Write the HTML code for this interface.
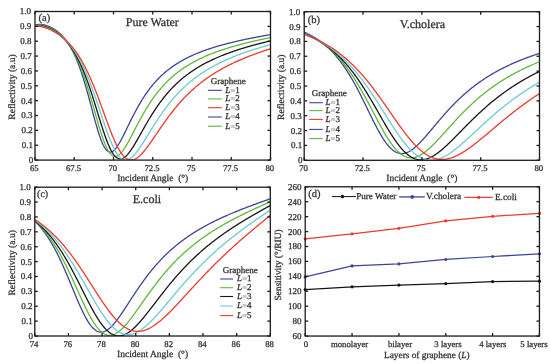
<!DOCTYPE html>
<html><head><meta charset="utf-8"><style>
html,body{margin:0;padding:0;background:#fff;}
svg{display:block;will-change:transform;}
text{font-family:"Liberation Serif", serif;fill:#333333;stroke:#333333;stroke-width:0.28px;text-rendering:geometricPrecision;}
</style></head><body>
<svg width="550" height="364" viewBox="0 0 550 364">
<rect width="550" height="364" fill="#ffffff"/>
<clipPath id="clipa"><rect x="35.0" y="11.5" width="235.5" height="148.6"/></clipPath>
<g clip-path="url(#clipa)">
<polyline points="35.00,25.22 35.59,25.02 36.18,24.85 36.77,24.71 37.36,24.60 37.95,24.52 38.54,24.46 39.13,24.43 39.72,24.42 40.31,24.43 40.90,24.46 41.49,24.51 42.08,24.57 42.67,24.66 43.26,24.75 43.85,24.87 44.44,25.00 45.03,25.15 45.62,25.31 46.21,25.48 46.80,25.67 47.39,25.87 47.98,26.09 48.58,26.32 49.17,26.56 49.76,26.82 50.35,27.09 50.94,27.37 51.53,27.67 52.12,27.98 52.71,28.31 53.30,28.65 53.89,29.01 54.48,29.38 55.07,29.77 55.66,30.17 56.25,30.59 56.84,31.03 57.43,31.48 58.02,31.95 58.61,32.44 59.20,32.95 59.79,33.48 60.38,34.02 60.97,34.59 61.56,35.18 62.15,35.79 62.74,36.43 63.33,37.08 63.92,37.76 64.51,38.47 65.10,39.20 65.69,39.95 66.28,40.74 66.87,41.55 67.46,42.39 68.05,43.25 68.64,44.15 69.23,45.08 69.82,46.05 70.41,47.04 71.00,48.07 71.59,49.13 72.18,50.23 72.77,51.36 73.36,52.53 73.95,53.74 74.55,54.99 75.14,56.28 75.73,57.60 76.32,58.97 76.91,60.38 77.50,61.83 78.09,63.32 78.68,64.85 79.27,66.43 79.86,68.05 80.45,69.71 81.04,71.41 81.63,73.16 82.22,74.95 82.81,76.78 83.40,78.65 83.99,80.57 84.58,82.51 85.17,84.50 85.76,86.52 86.35,88.58 86.94,90.67 87.53,92.78 88.12,94.92 88.71,97.09 89.30,99.27 89.89,101.48 90.48,103.69 91.07,105.91 91.66,108.14 92.25,110.37 92.84,112.59 93.43,114.80 94.02,116.99 94.61,119.16 95.20,121.31 95.79,123.42 96.38,125.50 96.97,127.53 97.56,129.51 98.15,131.44 98.74,133.30 99.33,135.10 99.92,136.83 100.52,138.48 101.11,140.05 101.70,141.54 102.29,142.93 102.88,144.24 103.47,145.45 104.06,146.55 104.65,147.56 105.24,148.47 105.83,149.28 106.42,149.98 107.01,150.58 107.60,151.07 108.19,151.46 108.78,151.75 109.37,151.95 109.96,152.04 110.55,152.04 111.14,151.95 111.73,151.77 112.32,151.50 112.91,151.15 113.50,150.73 114.09,150.23 114.68,149.65 115.27,149.02 115.86,148.31 116.45,147.55 117.04,146.74 117.63,145.88 118.22,144.97 118.81,144.01 119.40,143.02 119.99,141.99 120.58,140.93 121.17,139.84 121.76,138.73 122.35,137.60 122.94,136.44 123.53,135.27 124.12,134.09 124.71,132.90 125.30,131.69 125.89,130.49 126.48,129.27 127.08,128.06 127.67,126.84 128.26,125.63 128.85,124.41 129.44,123.20 130.03,122.00 130.62,120.80 131.21,119.61 131.80,118.43 132.39,117.26 132.98,116.10 133.57,114.95 134.16,113.81 134.75,112.68 135.34,111.57 135.93,110.46 136.52,109.38 137.11,108.30 137.70,107.24 138.29,106.19 138.88,105.16 139.47,104.14 140.06,103.13 140.65,102.14 141.24,101.16 141.83,100.20 142.42,99.26 143.01,98.32 143.60,97.40 144.19,96.50 144.78,95.61 145.37,94.73 145.96,93.87 146.55,93.02 147.14,92.19 147.73,91.37 148.32,90.56 148.91,89.77 149.50,88.98 150.09,88.21 150.68,87.46 151.27,86.71 151.86,85.98 152.45,85.26 153.05,84.56 153.64,83.86 154.23,83.17 154.82,82.50 155.41,81.84 156.00,81.19 156.59,80.55 157.18,79.91 157.77,79.29 158.36,78.68 158.95,78.08 159.54,77.49 160.13,76.91 160.72,76.34 161.31,75.78 161.90,75.22 162.49,74.68 163.08,74.14 163.67,73.61 164.26,73.10 164.85,72.58 165.44,72.08 166.03,71.58 166.62,71.10 167.21,70.62 167.80,70.14 168.39,69.68 168.98,69.22 169.57,68.77 170.16,68.32 170.75,67.88 171.34,67.45 171.93,67.02 172.52,66.60 173.11,66.19 173.70,65.78 174.29,65.38 174.88,64.99 175.47,64.60 176.06,64.21 176.65,63.83 177.24,63.46 177.83,63.09 178.42,62.72 179.02,62.37 179.61,62.01 180.20,61.66 180.79,61.32 181.38,60.98 181.97,60.64 182.56,60.31 183.15,59.99 183.74,59.67 184.33,59.35 184.92,59.03 185.51,58.72 186.10,58.42 186.69,58.12 187.28,57.82 187.87,57.52 188.46,57.23 189.05,56.95 189.64,56.66 190.23,56.38 190.82,56.10 191.41,55.83 192.00,55.56 192.59,55.29 193.18,55.03 193.77,54.77 194.36,54.51 194.95,54.25 195.54,54.00 196.13,53.75 196.72,53.51 197.31,53.26 197.90,53.02 198.49,52.78 199.08,52.55 199.67,52.32 200.26,52.08 200.85,51.86 201.44,51.63 202.03,51.41 202.62,51.19 203.21,50.97 203.80,50.75 204.39,50.54 204.98,50.32 205.58,50.11 206.17,49.91 206.76,49.70 207.35,49.50 207.94,49.29 208.53,49.09 209.12,48.90 209.71,48.70 210.30,48.51 210.89,48.31 211.48,48.12 212.07,47.93 212.66,47.75 213.25,47.56 213.84,47.38 214.43,47.20 215.02,47.02 215.61,46.84 216.20,46.66 216.79,46.48 217.38,46.31 217.97,46.14 218.56,45.96 219.15,45.79 219.74,45.63 220.33,45.46 220.92,45.29 221.51,45.13 222.10,44.97 222.69,44.80 223.28,44.64 223.87,44.48 224.46,44.33 225.05,44.17 225.64,44.01 226.23,43.86 226.82,43.71 227.41,43.55 228.00,43.40 228.59,43.25 229.18,43.10 229.77,42.96 230.36,42.81 230.95,42.66 231.55,42.52 232.14,42.38 232.73,42.23 233.32,42.09 233.91,41.95 234.50,41.81 235.09,41.67 235.68,41.53 236.27,41.40 236.86,41.26 237.45,41.13 238.04,40.99 238.63,40.86 239.22,40.73 239.81,40.59 240.40,40.46 240.99,40.33 241.58,40.20 242.17,40.07 242.76,39.95 243.35,39.82 243.94,39.69 244.53,39.57 245.12,39.44 245.71,39.32 246.30,39.19 246.89,39.07 247.48,38.95 248.07,38.83 248.66,38.71 249.25,38.59 249.84,38.47 250.43,38.35 251.02,38.23 251.61,38.11 252.20,37.99 252.79,37.88 253.38,37.76 253.97,37.64 254.56,37.53 255.15,37.41 255.74,37.30 256.33,37.19 256.92,37.07 257.52,36.96 258.11,36.85 258.70,36.74 259.29,36.63 259.88,36.52 260.47,36.41 261.06,36.30 261.65,36.19 262.24,36.08 262.83,35.97 263.42,35.87 264.01,35.76 264.60,35.65 265.19,35.54 265.78,35.44 266.37,35.33 266.96,35.23 267.55,35.12 268.14,35.02 268.73,34.92 269.32,34.81 269.91,34.71 270.50,34.61" fill="none" stroke="#3d4497" stroke-width="1.3" stroke-linejoin="round"/>
<polyline points="35.00,25.47 35.59,25.33 36.18,25.22 36.77,25.14 37.36,25.08 37.95,25.05 38.54,25.03 39.13,25.04 39.72,25.07 40.31,25.12 40.90,25.18 41.49,25.26 42.08,25.35 42.67,25.46 43.26,25.59 43.85,25.72 44.44,25.88 45.03,26.04 45.62,26.22 46.21,26.41 46.80,26.61 47.39,26.83 47.98,27.06 48.58,27.30 49.17,27.55 49.76,27.81 50.35,28.09 50.94,28.38 51.53,28.68 52.12,29.00 52.71,29.32 53.30,29.66 53.89,30.02 54.48,30.39 55.07,30.77 55.66,31.16 56.25,31.57 56.84,32.00 57.43,32.44 58.02,32.89 58.61,33.36 59.20,33.85 59.79,34.35 60.38,34.87 60.97,35.41 61.56,35.97 62.15,36.54 62.74,37.14 63.33,37.75 63.92,38.39 64.51,39.04 65.10,39.72 65.69,40.42 66.28,41.14 66.87,41.88 67.46,42.65 68.05,43.44 68.64,44.26 69.23,45.10 69.82,45.97 70.41,46.87 71.00,47.79 71.59,48.75 72.18,49.73 72.77,50.74 73.36,51.78 73.95,52.85 74.55,53.96 75.14,55.09 75.73,56.26 76.32,57.46 76.91,58.70 77.50,59.97 78.09,61.28 78.68,62.62 79.27,63.99 79.86,65.40 80.45,66.85 81.04,68.33 81.63,69.85 82.22,71.41 82.81,73.00 83.40,74.63 83.99,76.29 84.58,77.99 85.17,79.73 85.76,81.50 86.35,83.30 86.94,85.13 87.53,87.00 88.12,88.89 88.71,90.81 89.30,92.76 89.89,94.74 90.48,96.73 91.07,98.75 91.66,100.79 92.25,102.84 92.84,104.90 93.43,106.97 94.02,109.05 94.61,111.14 95.20,113.22 95.79,115.30 96.38,117.37 96.97,119.42 97.56,121.46 98.15,123.49 98.74,125.48 99.33,127.45 99.92,129.38 100.52,131.27 101.11,133.13 101.70,134.93 102.29,136.69 102.88,138.38 103.47,140.02 104.06,141.60 104.65,143.11 105.24,144.55 105.83,145.92 106.42,147.21 107.01,148.42 107.60,149.55 108.19,150.60 108.78,151.56 109.37,152.44 109.96,153.23 110.55,153.93 111.14,154.55 111.73,155.08 112.32,155.52 112.91,155.87 113.50,156.14 114.09,156.32 114.68,156.43 115.27,156.45 115.86,156.39 116.45,156.26 117.04,156.05 117.63,155.77 118.22,155.42 118.81,155.01 119.40,154.54 119.99,154.00 120.58,153.41 121.17,152.77 121.76,152.07 122.35,151.33 122.94,150.54 123.53,149.71 124.12,148.85 124.71,147.95 125.30,147.01 125.89,146.05 126.48,145.06 127.08,144.05 127.67,143.01 128.26,141.96 128.85,140.88 129.44,139.80 130.03,138.70 130.62,137.59 131.21,136.47 131.80,135.34 132.39,134.21 132.98,133.08 133.57,131.94 134.16,130.80 134.75,129.66 135.34,128.53 135.93,127.39 136.52,126.26 137.11,125.14 137.70,124.02 138.29,122.90 138.88,121.80 139.47,120.70 140.06,119.61 140.65,118.53 141.24,117.45 141.83,116.39 142.42,115.34 143.01,114.30 143.60,113.27 144.19,112.25 144.78,111.24 145.37,110.24 145.96,109.26 146.55,108.29 147.14,107.33 147.73,106.38 148.32,105.44 148.91,104.52 149.50,103.60 150.09,102.70 150.68,101.82 151.27,100.94 151.86,100.08 152.45,99.23 153.05,98.39 153.64,97.56 154.23,96.74 154.82,95.94 155.41,95.15 156.00,94.36 156.59,93.59 157.18,92.84 157.77,92.09 158.36,91.35 158.95,90.63 159.54,89.91 160.13,89.21 160.72,88.51 161.31,87.83 161.90,87.15 162.49,86.49 163.08,85.84 163.67,85.19 164.26,84.56 164.85,83.93 165.44,83.32 166.03,82.71 166.62,82.11 167.21,81.52 167.80,80.94 168.39,80.37 168.98,79.80 169.57,79.25 170.16,78.70 170.75,78.16 171.34,77.62 171.93,77.10 172.52,76.58 173.11,76.07 173.70,75.57 174.29,75.07 174.88,74.58 175.47,74.10 176.06,73.63 176.65,73.16 177.24,72.69 177.83,72.24 178.42,71.79 179.02,71.34 179.61,70.91 180.20,70.48 180.79,70.05 181.38,69.63 181.97,69.21 182.56,68.80 183.15,68.40 183.74,68.00 184.33,67.61 184.92,67.22 185.51,66.84 186.10,66.46 186.69,66.08 187.28,65.71 187.87,65.35 188.46,64.99 189.05,64.64 189.64,64.28 190.23,63.94 190.82,63.59 191.41,63.26 192.00,62.92 192.59,62.59 193.18,62.27 193.77,61.94 194.36,61.62 194.95,61.31 195.54,61.00 196.13,60.69 196.72,60.39 197.31,60.09 197.90,59.79 198.49,59.49 199.08,59.20 199.67,58.92 200.26,58.63 200.85,58.35 201.44,58.07 202.03,57.80 202.62,57.53 203.21,57.26 203.80,56.99 204.39,56.73 204.98,56.47 205.58,56.21 206.17,55.95 206.76,55.70 207.35,55.45 207.94,55.20 208.53,54.96 209.12,54.71 209.71,54.47 210.30,54.24 210.89,54.00 211.48,53.77 212.07,53.54 212.66,53.31 213.25,53.08 213.84,52.86 214.43,52.63 215.02,52.41 215.61,52.19 216.20,51.98 216.79,51.76 217.38,51.55 217.97,51.34 218.56,51.13 219.15,50.93 219.74,50.72 220.33,50.52 220.92,50.32 221.51,50.12 222.10,49.92 222.69,49.72 223.28,49.53 223.87,49.33 224.46,49.14 225.05,48.95 225.64,48.76 226.23,48.58 226.82,48.39 227.41,48.21 228.00,48.02 228.59,47.84 229.18,47.66 229.77,47.48 230.36,47.31 230.95,47.13 231.55,46.96 232.14,46.78 232.73,46.61 233.32,46.44 233.91,46.27 234.50,46.10 235.09,45.94 235.68,45.77 236.27,45.61 236.86,45.44 237.45,45.28 238.04,45.12 238.63,44.96 239.22,44.80 239.81,44.64 240.40,44.49 240.99,44.33 241.58,44.17 242.17,44.02 242.76,43.87 243.35,43.72 243.94,43.56 244.53,43.41 245.12,43.27 245.71,43.12 246.30,42.97 246.89,42.82 247.48,42.68 248.07,42.53 248.66,42.39 249.25,42.25 249.84,42.10 250.43,41.96 251.02,41.82 251.61,41.68 252.20,41.54 252.79,41.40 253.38,41.27 253.97,41.13 254.56,40.99 255.15,40.86 255.74,40.72 256.33,40.59 256.92,40.46 257.52,40.32 258.11,40.19 258.70,40.06 259.29,39.93 259.88,39.80 260.47,39.67 261.06,39.54 261.65,39.41 262.24,39.28 262.83,39.16 263.42,39.03 264.01,38.90 264.60,38.78 265.19,38.65 265.78,38.53 266.37,38.41 266.96,38.28 267.55,38.16 268.14,38.04 268.73,37.92 269.32,37.80 269.91,37.67 270.50,37.55" fill="none" stroke="#62b63a" stroke-width="1.3" stroke-linejoin="round"/>
<polyline points="35.00,25.71 35.59,25.62 36.18,25.56 36.77,25.52 37.36,25.50 37.95,25.50 38.54,25.52 39.13,25.55 39.72,25.61 40.31,25.68 40.90,25.76 41.49,25.86 42.08,25.97 42.67,26.10 43.26,26.24 43.85,26.39 44.44,26.56 45.03,26.73 45.62,26.92 46.21,27.12 46.80,27.33 47.39,27.55 47.98,27.79 48.58,28.03 49.17,28.28 49.76,28.55 50.35,28.82 50.94,29.11 51.53,29.41 52.12,29.72 52.71,30.04 53.30,30.38 53.89,30.72 54.48,31.08 55.07,31.45 55.66,31.83 56.25,32.22 56.84,32.63 57.43,33.05 58.02,33.48 58.61,33.93 59.20,34.39 59.79,34.87 60.38,35.36 60.97,35.86 61.56,36.39 62.15,36.92 62.74,37.48 63.33,38.05 63.92,38.64 64.51,39.24 65.10,39.86 65.69,40.51 66.28,41.17 66.87,41.85 67.46,42.55 68.05,43.27 68.64,44.01 69.23,44.77 69.82,45.56 70.41,46.36 71.00,47.19 71.59,48.05 72.18,48.92 72.77,49.82 73.36,50.75 73.95,51.70 74.55,52.68 75.14,53.68 75.73,54.71 76.32,55.77 76.91,56.86 77.50,57.97 78.09,59.11 78.68,60.29 79.27,61.49 79.86,62.72 80.45,63.98 81.04,65.27 81.63,66.59 82.22,67.94 82.81,69.32 83.40,70.73 83.99,72.18 84.58,73.65 85.17,75.15 85.76,76.69 86.35,78.25 86.94,79.85 87.53,81.47 88.12,83.12 88.71,84.80 89.30,86.50 89.89,88.24 90.48,89.99 91.07,91.77 91.66,93.58 92.25,95.40 92.84,97.25 93.43,99.11 94.02,100.99 94.61,102.88 95.20,104.78 95.79,106.70 96.38,108.62 96.97,110.55 97.56,112.48 98.15,114.41 98.74,116.34 99.33,118.26 99.92,120.17 100.52,122.07 101.11,123.95 101.70,125.82 102.29,127.66 102.88,129.48 103.47,131.27 104.06,133.03 104.65,134.75 105.24,136.43 105.83,138.08 106.42,139.67 107.01,141.22 107.60,142.72 108.19,144.16 108.78,145.55 109.37,146.87 109.96,148.14 110.55,149.34 111.14,150.47 111.73,151.54 112.32,152.54 112.91,153.47 113.50,154.32 114.09,155.11 114.68,155.82 115.27,156.45 115.86,157.02 116.45,157.51 117.04,157.92 117.63,158.27 118.22,158.54 118.81,158.74 119.40,158.87 119.99,158.93 120.58,158.93 121.17,158.86 121.76,158.73 122.35,158.54 122.94,158.28 123.53,157.97 124.12,157.60 124.71,157.18 125.30,156.71 125.89,156.19 126.48,155.63 127.08,155.02 127.67,154.37 128.26,153.68 128.85,152.95 129.44,152.19 130.03,151.40 130.62,150.58 131.21,149.73 131.80,148.85 132.39,147.95 132.98,147.03 133.57,146.09 134.16,145.13 134.75,144.16 135.34,143.17 135.93,142.17 136.52,141.16 137.11,140.13 137.70,139.11 138.29,138.07 138.88,137.03 139.47,135.98 140.06,134.94 140.65,133.89 141.24,132.84 141.83,131.79 142.42,130.74 143.01,129.69 143.60,128.65 144.19,127.61 144.78,126.57 145.37,125.54 145.96,124.52 146.55,123.50 147.14,122.48 147.73,121.48 148.32,120.48 148.91,119.49 149.50,118.50 150.09,117.53 150.68,116.56 151.27,115.61 151.86,114.66 152.45,113.72 153.05,112.79 153.64,111.87 154.23,110.96 154.82,110.06 155.41,109.17 156.00,108.29 156.59,107.42 157.18,106.56 157.77,105.71 158.36,104.87 158.95,104.04 159.54,103.23 160.13,102.42 160.72,101.62 161.31,100.83 161.90,100.05 162.49,99.28 163.08,98.52 163.67,97.77 164.26,97.03 164.85,96.30 165.44,95.58 166.03,94.87 166.62,94.16 167.21,93.47 167.80,92.78 168.39,92.11 168.98,91.44 169.57,90.79 170.16,90.14 170.75,89.50 171.34,88.86 171.93,88.24 172.52,87.63 173.11,87.02 173.70,86.42 174.29,85.83 174.88,85.24 175.47,84.67 176.06,84.10 176.65,83.54 177.24,82.99 177.83,82.44 178.42,81.90 179.02,81.37 179.61,80.84 180.20,80.32 180.79,79.81 181.38,79.31 181.97,78.81 182.56,78.31 183.15,77.83 183.74,77.35 184.33,76.87 184.92,76.41 185.51,75.94 186.10,75.49 186.69,75.04 187.28,74.59 187.87,74.15 188.46,73.72 189.05,73.29 189.64,72.86 190.23,72.44 190.82,72.03 191.41,71.62 192.00,71.22 192.59,70.82 193.18,70.42 193.77,70.03 194.36,69.65 194.95,69.27 195.54,68.89 196.13,68.52 196.72,68.15 197.31,67.79 197.90,67.43 198.49,67.07 199.08,66.72 199.67,66.37 200.26,66.03 200.85,65.69 201.44,65.35 202.03,65.02 202.62,64.69 203.21,64.37 203.80,64.04 204.39,63.73 204.98,63.41 205.58,63.10 206.17,62.79 206.76,62.49 207.35,62.18 207.94,61.88 208.53,61.59 209.12,61.30 209.71,61.01 210.30,60.72 210.89,60.43 211.48,60.15 212.07,59.87 212.66,59.60 213.25,59.32 213.84,59.05 214.43,58.79 215.02,58.52 215.61,58.26 216.20,58.00 216.79,57.74 217.38,57.48 217.97,57.23 218.56,56.98 219.15,56.73 219.74,56.48 220.33,56.24 220.92,56.00 221.51,55.76 222.10,55.52 222.69,55.28 223.28,55.05 223.87,54.82 224.46,54.59 225.05,54.36 225.64,54.13 226.23,53.91 226.82,53.69 227.41,53.47 228.00,53.25 228.59,53.03 229.18,52.82 229.77,52.60 230.36,52.39 230.95,52.18 231.55,51.97 232.14,51.77 232.73,51.56 233.32,51.36 233.91,51.16 234.50,50.96 235.09,50.76 235.68,50.56 236.27,50.36 236.86,50.17 237.45,49.98 238.04,49.78 238.63,49.59 239.22,49.40 239.81,49.22 240.40,49.03 240.99,48.85 241.58,48.66 242.17,48.48 242.76,48.30 243.35,48.12 243.94,47.94 244.53,47.76 245.12,47.58 245.71,47.41 246.30,47.23 246.89,47.06 247.48,46.89 248.07,46.72 248.66,46.55 249.25,46.38 249.84,46.21 250.43,46.04 251.02,45.88 251.61,45.71 252.20,45.55 252.79,45.38 253.38,45.22 253.97,45.06 254.56,44.90 255.15,44.74 255.74,44.58 256.33,44.43 256.92,44.27 257.52,44.11 258.11,43.96 258.70,43.80 259.29,43.65 259.88,43.50 260.47,43.35 261.06,43.20 261.65,43.04 262.24,42.90 262.83,42.75 263.42,42.60 264.01,42.45 264.60,42.30 265.19,42.16 265.78,42.01 266.37,41.87 266.96,41.73 267.55,41.58 268.14,41.44 268.73,41.30 269.32,41.16 269.91,41.02 270.50,40.88" fill="none" stroke="#161616" stroke-width="1.3" stroke-linejoin="round"/>
<polyline points="35.00,25.99 35.59,25.93 36.18,25.89 36.77,25.88 37.36,25.88 37.95,25.90 38.54,25.94 39.13,26.00 39.72,26.07 40.31,26.15 40.90,26.25 41.49,26.36 42.08,26.48 42.67,26.62 43.26,26.77 43.85,26.93 44.44,27.10 45.03,27.28 45.62,27.47 46.21,27.67 46.80,27.88 47.39,28.10 47.98,28.34 48.58,28.58 49.17,28.83 49.76,29.09 50.35,29.36 50.94,29.64 51.53,29.93 52.12,30.23 52.71,30.55 53.30,30.87 53.89,31.20 54.48,31.54 55.07,31.89 55.66,32.26 56.25,32.63 56.84,33.02 57.43,33.42 58.02,33.83 58.61,34.25 59.20,34.69 59.79,35.13 60.38,35.59 60.97,36.07 61.56,36.55 62.15,37.05 62.74,37.56 63.33,38.09 63.92,38.64 64.51,39.19 65.10,39.77 65.69,40.35 66.28,40.96 66.87,41.58 67.46,42.22 68.05,42.87 68.64,43.54 69.23,44.23 69.82,44.94 70.41,45.67 71.00,46.42 71.59,47.18 72.18,47.97 72.77,48.77 73.36,49.60 73.95,50.44 74.55,51.31 75.14,52.20 75.73,53.11 76.32,54.05 76.91,55.00 77.50,55.98 78.09,56.99 78.68,58.01 79.27,59.07 79.86,60.14 80.45,61.24 81.04,62.37 81.63,63.52 82.22,64.69 82.81,65.90 83.40,67.12 83.99,68.38 84.58,69.66 85.17,70.96 85.76,72.29 86.35,73.65 86.94,75.03 87.53,76.44 88.12,77.87 88.71,79.33 89.30,80.81 89.89,82.31 90.48,83.84 91.07,85.40 91.66,86.97 92.25,88.57 92.84,90.19 93.43,91.83 94.02,93.49 94.61,95.16 95.20,96.86 95.79,98.56 96.38,100.29 96.97,102.02 97.56,103.77 98.15,105.53 98.74,107.29 99.33,109.06 99.92,110.84 100.52,112.62 101.11,114.40 101.70,116.17 102.29,117.94 102.88,119.71 103.47,121.47 104.06,123.21 104.65,124.94 105.24,126.66 105.83,128.35 106.42,130.03 107.01,131.68 107.60,133.31 108.19,134.90 108.78,136.47 109.37,138.00 109.96,139.49 110.55,140.94 111.14,142.36 111.73,143.73 112.32,145.05 112.91,146.33 113.50,147.56 114.09,148.73 114.68,149.86 115.27,150.92 115.86,151.94 116.45,152.89 117.04,153.79 117.63,154.62 118.22,155.40 118.81,156.12 119.40,156.77 119.99,157.37 120.58,157.90 121.17,158.37 121.76,158.78 122.35,159.13 122.94,159.42 123.53,159.65 124.12,159.82 124.71,159.93 125.30,159.99 125.89,159.99 126.48,159.94 127.08,159.83 127.67,159.67 128.26,159.46 128.85,159.20 129.44,158.90 130.03,158.55 130.62,158.16 131.21,157.72 131.80,157.24 132.39,156.73 132.98,156.18 133.57,155.60 134.16,154.98 134.75,154.33 135.34,153.65 135.93,152.94 136.52,152.21 137.11,151.45 137.70,150.67 138.29,149.87 138.88,149.05 139.47,148.22 140.06,147.36 140.65,146.49 141.24,145.61 141.83,144.71 142.42,143.80 143.01,142.89 143.60,141.96 144.19,141.03 144.78,140.09 145.37,139.14 145.96,138.19 146.55,137.24 147.14,136.28 147.73,135.33 148.32,134.37 148.91,133.41 149.50,132.45 150.09,131.49 150.68,130.54 151.27,129.58 151.86,128.63 152.45,127.69 153.05,126.74 153.64,125.80 154.23,124.87 154.82,123.94 155.41,123.02 156.00,122.10 156.59,121.19 157.18,120.28 157.77,119.38 158.36,118.49 158.95,117.60 159.54,116.73 160.13,115.85 160.72,114.99 161.31,114.14 161.90,113.29 162.49,112.45 163.08,111.62 163.67,110.80 164.26,109.98 164.85,109.17 165.44,108.37 166.03,107.58 166.62,106.80 167.21,106.03 167.80,105.26 168.39,104.50 168.98,103.76 169.57,103.02 170.16,102.28 170.75,101.56 171.34,100.84 171.93,100.13 172.52,99.43 173.11,98.74 173.70,98.06 174.29,97.38 174.88,96.71 175.47,96.05 176.06,95.40 176.65,94.75 177.24,94.12 177.83,93.49 178.42,92.86 179.02,92.25 179.61,91.64 180.20,91.04 180.79,90.44 181.38,89.86 181.97,89.28 182.56,88.70 183.15,88.14 183.74,87.58 184.33,87.02 184.92,86.47 185.51,85.93 186.10,85.40 186.69,84.87 187.28,84.35 187.87,83.83 188.46,83.32 189.05,82.82 189.64,82.32 190.23,81.83 190.82,81.34 191.41,80.86 192.00,80.39 192.59,79.92 193.18,79.45 193.77,78.99 194.36,78.54 194.95,78.09 195.54,77.64 196.13,77.20 196.72,76.77 197.31,76.34 197.90,75.91 198.49,75.49 199.08,75.08 199.67,74.67 200.26,74.26 200.85,73.86 201.44,73.46 202.03,73.07 202.62,72.68 203.21,72.29 203.80,71.91 204.39,71.53 204.98,71.16 205.58,70.79 206.17,70.42 206.76,70.06 207.35,69.70 207.94,69.35 208.53,69.00 209.12,68.65 209.71,68.31 210.30,67.96 210.89,67.63 211.48,67.29 212.07,66.96 212.66,66.64 213.25,66.31 213.84,65.99 214.43,65.67 215.02,65.36 215.61,65.05 216.20,64.74 216.79,64.43 217.38,64.13 217.97,63.83 218.56,63.53 219.15,63.23 219.74,62.94 220.33,62.65 220.92,62.37 221.51,62.08 222.10,61.80 222.69,61.52 223.28,61.24 223.87,60.97 224.46,60.70 225.05,60.43 225.64,60.16 226.23,59.90 226.82,59.63 227.41,59.37 228.00,59.11 228.59,58.86 229.18,58.60 229.77,58.35 230.36,58.10 230.95,57.85 231.55,57.61 232.14,57.36 232.73,57.12 233.32,56.88 233.91,56.64 234.50,56.40 235.09,56.17 235.68,55.94 236.27,55.71 236.86,55.48 237.45,55.25 238.04,55.02 238.63,54.80 239.22,54.58 239.81,54.35 240.40,54.14 240.99,53.92 241.58,53.70 242.17,53.49 242.76,53.27 243.35,53.06 243.94,52.85 244.53,52.64 245.12,52.43 245.71,52.23 246.30,52.02 246.89,51.82 247.48,51.62 248.07,51.42 248.66,51.22 249.25,51.02 249.84,50.82 250.43,50.63 251.02,50.43 251.61,50.24 252.20,50.05 252.79,49.86 253.38,49.67 253.97,49.48 254.56,49.29 255.15,49.10 255.74,48.92 256.33,48.74 256.92,48.55 257.52,48.37 258.11,48.19 258.70,48.01 259.29,47.83 259.88,47.65 260.47,47.48 261.06,47.30 261.65,47.12 262.24,46.95 262.83,46.78 263.42,46.61 264.01,46.43 264.60,46.26 265.19,46.09 265.78,45.93 266.37,45.76 266.96,45.59 267.55,45.42 268.14,45.26 268.73,45.09 269.32,44.93 269.91,44.77 270.50,44.61" fill="none" stroke="#6ccad2" stroke-width="1.3" stroke-linejoin="round"/>
<polyline points="35.00,26.16 35.59,26.13 36.18,26.12 36.77,26.13 37.36,26.16 37.95,26.20 38.54,26.25 39.13,26.32 39.72,26.41 40.31,26.50 40.90,26.61 41.49,26.73 42.08,26.87 42.67,27.01 43.26,27.16 43.85,27.33 44.44,27.50 45.03,27.68 45.62,27.87 46.21,28.08 46.80,28.29 47.39,28.51 47.98,28.73 48.58,28.97 49.17,29.22 49.76,29.47 50.35,29.74 50.94,30.01 51.53,30.29 52.12,30.58 52.71,30.88 53.30,31.19 53.89,31.51 54.48,31.83 55.07,32.17 55.66,32.52 56.25,32.87 56.84,33.24 57.43,33.61 58.02,34.00 58.61,34.40 59.20,34.81 59.79,35.22 60.38,35.65 60.97,36.09 61.56,36.55 62.15,37.01 62.74,37.49 63.33,37.97 63.92,38.47 64.51,38.99 65.10,39.51 65.69,40.05 66.28,40.61 66.87,41.17 67.46,41.76 68.05,42.35 68.64,42.96 69.23,43.59 69.82,44.23 70.41,44.88 71.00,45.56 71.59,46.24 72.18,46.95 72.77,47.67 73.36,48.41 73.95,49.16 74.55,49.94 75.14,50.73 75.73,51.54 76.32,52.37 76.91,53.21 77.50,54.08 78.09,54.97 78.68,55.87 79.27,56.80 79.86,57.74 80.45,58.71 81.04,59.69 81.63,60.70 82.22,61.73 82.81,62.78 83.40,63.85 83.99,64.94 84.58,66.05 85.17,67.19 85.76,68.35 86.35,69.53 86.94,70.73 87.53,71.95 88.12,73.19 88.71,74.46 89.30,75.75 89.89,77.05 90.48,78.38 91.07,79.73 91.66,81.10 92.25,82.50 92.84,83.91 93.43,85.34 94.02,86.79 94.61,88.25 95.20,89.74 95.79,91.24 96.38,92.76 96.97,94.29 97.56,95.84 98.15,97.40 98.74,98.97 99.33,100.56 99.92,102.16 100.52,103.76 101.11,105.37 101.70,106.99 102.29,108.62 102.88,110.25 103.47,111.88 104.06,113.51 104.65,115.14 105.24,116.77 105.83,118.39 106.42,120.01 107.01,121.62 107.60,123.21 108.19,124.80 108.78,126.37 109.37,127.93 109.96,129.47 110.55,130.99 111.14,132.49 111.73,133.96 112.32,135.41 112.91,136.83 113.50,138.23 114.09,139.59 114.68,140.92 115.27,142.21 115.86,143.47 116.45,144.69 117.04,145.87 117.63,147.00 118.22,148.10 118.81,149.15 119.40,150.16 119.99,151.12 120.58,152.04 121.17,152.90 121.76,153.72 122.35,154.49 122.94,155.21 123.53,155.88 124.12,156.49 124.71,157.06 125.30,157.57 125.89,158.04 126.48,158.45 127.08,158.81 127.67,159.12 128.26,159.39 128.85,159.60 129.44,159.76 130.03,159.88 130.62,159.94 131.21,159.96 131.80,159.94 132.39,159.87 132.98,159.76 133.57,159.60 134.16,159.41 134.75,159.17 135.34,158.90 135.93,158.58 136.52,158.23 137.11,157.85 137.70,157.43 138.29,156.98 138.88,156.50 139.47,155.99 140.06,155.45 140.65,154.89 141.24,154.30 141.83,153.68 142.42,153.04 143.01,152.38 143.60,151.70 144.19,151.00 144.78,150.29 145.37,149.55 145.96,148.80 146.55,148.04 147.14,147.26 147.73,146.47 148.32,145.67 148.91,144.86 149.50,144.03 150.09,143.20 150.68,142.37 151.27,141.52 151.86,140.67 152.45,139.82 153.05,138.96 153.64,138.10 154.23,137.23 154.82,136.37 155.41,135.50 156.00,134.63 156.59,133.76 157.18,132.89 157.77,132.02 158.36,131.15 158.95,130.28 159.54,129.42 160.13,128.55 160.72,127.69 161.31,126.84 161.90,125.98 162.49,125.13 163.08,124.29 163.67,123.45 164.26,122.61 164.85,121.78 165.44,120.95 166.03,120.13 166.62,119.31 167.21,118.50 167.80,117.70 168.39,116.90 168.98,116.11 169.57,115.32 170.16,114.54 170.75,113.76 171.34,113.00 171.93,112.24 172.52,111.48 173.11,110.73 173.70,109.99 174.29,109.26 174.88,108.53 175.47,107.81 176.06,107.09 176.65,106.38 177.24,105.68 177.83,104.99 178.42,104.30 179.02,103.62 179.61,102.94 180.20,102.27 180.79,101.61 181.38,100.96 181.97,100.31 182.56,99.67 183.15,99.03 183.74,98.41 184.33,97.78 184.92,97.17 185.51,96.56 186.10,95.96 186.69,95.36 187.28,94.77 187.87,94.19 188.46,93.61 189.05,93.03 189.64,92.47 190.23,91.91 190.82,91.35 191.41,90.81 192.00,90.26 192.59,89.72 193.18,89.19 193.77,88.67 194.36,88.15 194.95,87.63 195.54,87.12 196.13,86.62 196.72,86.12 197.31,85.62 197.90,85.13 198.49,84.65 199.08,84.17 199.67,83.70 200.26,83.23 200.85,82.76 201.44,82.30 202.03,81.85 202.62,81.40 203.21,80.95 203.80,80.51 204.39,80.07 204.98,79.64 205.58,79.21 206.17,78.79 206.76,78.37 207.35,77.95 207.94,77.54 208.53,77.13 209.12,76.73 209.71,76.33 210.30,75.93 210.89,75.54 211.48,75.15 212.07,74.77 212.66,74.39 213.25,74.01 213.84,73.64 214.43,73.27 215.02,72.90 215.61,72.54 216.20,72.18 216.79,71.82 217.38,71.47 217.97,71.12 218.56,70.77 219.15,70.43 219.74,70.09 220.33,69.75 220.92,69.42 221.51,69.08 222.10,68.76 222.69,68.43 223.28,68.11 223.87,67.79 224.46,67.47 225.05,67.15 225.64,66.84 226.23,66.53 226.82,66.23 227.41,65.92 228.00,65.62 228.59,65.32 229.18,65.03 229.77,64.73 230.36,64.44 230.95,64.15 231.55,63.86 232.14,63.58 232.73,63.30 233.32,63.02 233.91,62.74 234.50,62.46 235.09,62.19 235.68,61.92 236.27,61.65 236.86,61.38 237.45,61.12 238.04,60.85 238.63,60.59 239.22,60.33 239.81,60.07 240.40,59.82 240.99,59.56 241.58,59.31 242.17,59.06 242.76,58.81 243.35,58.57 243.94,58.32 244.53,58.08 245.12,57.84 245.71,57.60 246.30,57.36 246.89,57.12 247.48,56.89 248.07,56.66 248.66,56.42 249.25,56.19 249.84,55.97 250.43,55.74 251.02,55.51 251.61,55.29 252.20,55.07 252.79,54.84 253.38,54.62 253.97,54.41 254.56,54.19 255.15,53.97 255.74,53.76 256.33,53.54 256.92,53.33 257.52,53.12 258.11,52.91 258.70,52.70 259.29,52.50 259.88,52.29 260.47,52.09 261.06,51.88 261.65,51.68 262.24,51.48 262.83,51.28 263.42,51.08 264.01,50.88 264.60,50.68 265.19,50.49 265.78,50.29 266.37,50.10 266.96,49.91 267.55,49.72 268.14,49.52 268.73,49.34 269.32,49.15 269.91,48.96 270.50,48.77" fill="none" stroke="#ee3a2e" stroke-width="1.3" stroke-linejoin="round"/>
</g>
<line x1="35.00" y1="160.10" x2="35.00" y2="157.10" stroke="#1c1c1c" stroke-width="1.3"/>
<line x1="35.00" y1="11.50" x2="35.00" y2="14.50" stroke="#1c1c1c" stroke-width="1.3"/>
<line x1="74.25" y1="160.10" x2="74.25" y2="157.10" stroke="#1c1c1c" stroke-width="1.3"/>
<line x1="74.25" y1="11.50" x2="74.25" y2="14.50" stroke="#1c1c1c" stroke-width="1.3"/>
<line x1="113.50" y1="160.10" x2="113.50" y2="157.10" stroke="#1c1c1c" stroke-width="1.3"/>
<line x1="113.50" y1="11.50" x2="113.50" y2="14.50" stroke="#1c1c1c" stroke-width="1.3"/>
<line x1="152.75" y1="160.10" x2="152.75" y2="157.10" stroke="#1c1c1c" stroke-width="1.3"/>
<line x1="152.75" y1="11.50" x2="152.75" y2="14.50" stroke="#1c1c1c" stroke-width="1.3"/>
<line x1="192.00" y1="160.10" x2="192.00" y2="157.10" stroke="#1c1c1c" stroke-width="1.3"/>
<line x1="192.00" y1="11.50" x2="192.00" y2="14.50" stroke="#1c1c1c" stroke-width="1.3"/>
<line x1="231.25" y1="160.10" x2="231.25" y2="157.10" stroke="#1c1c1c" stroke-width="1.3"/>
<line x1="231.25" y1="11.50" x2="231.25" y2="14.50" stroke="#1c1c1c" stroke-width="1.3"/>
<line x1="270.50" y1="160.10" x2="270.50" y2="157.10" stroke="#1c1c1c" stroke-width="1.3"/>
<line x1="270.50" y1="11.50" x2="270.50" y2="14.50" stroke="#1c1c1c" stroke-width="1.3"/>
<line x1="35.00" y1="160.10" x2="38.00" y2="160.10" stroke="#1c1c1c" stroke-width="1.3"/>
<line x1="270.50" y1="160.10" x2="267.50" y2="160.10" stroke="#1c1c1c" stroke-width="1.3"/>
<line x1="35.00" y1="145.24" x2="38.00" y2="145.24" stroke="#1c1c1c" stroke-width="1.3"/>
<line x1="270.50" y1="145.24" x2="267.50" y2="145.24" stroke="#1c1c1c" stroke-width="1.3"/>
<line x1="35.00" y1="130.38" x2="38.00" y2="130.38" stroke="#1c1c1c" stroke-width="1.3"/>
<line x1="270.50" y1="130.38" x2="267.50" y2="130.38" stroke="#1c1c1c" stroke-width="1.3"/>
<line x1="35.00" y1="115.52" x2="38.00" y2="115.52" stroke="#1c1c1c" stroke-width="1.3"/>
<line x1="270.50" y1="115.52" x2="267.50" y2="115.52" stroke="#1c1c1c" stroke-width="1.3"/>
<line x1="35.00" y1="100.66" x2="38.00" y2="100.66" stroke="#1c1c1c" stroke-width="1.3"/>
<line x1="270.50" y1="100.66" x2="267.50" y2="100.66" stroke="#1c1c1c" stroke-width="1.3"/>
<line x1="35.00" y1="85.80" x2="38.00" y2="85.80" stroke="#1c1c1c" stroke-width="1.3"/>
<line x1="270.50" y1="85.80" x2="267.50" y2="85.80" stroke="#1c1c1c" stroke-width="1.3"/>
<line x1="35.00" y1="70.94" x2="38.00" y2="70.94" stroke="#1c1c1c" stroke-width="1.3"/>
<line x1="270.50" y1="70.94" x2="267.50" y2="70.94" stroke="#1c1c1c" stroke-width="1.3"/>
<line x1="35.00" y1="56.08" x2="38.00" y2="56.08" stroke="#1c1c1c" stroke-width="1.3"/>
<line x1="270.50" y1="56.08" x2="267.50" y2="56.08" stroke="#1c1c1c" stroke-width="1.3"/>
<line x1="35.00" y1="41.22" x2="38.00" y2="41.22" stroke="#1c1c1c" stroke-width="1.3"/>
<line x1="270.50" y1="41.22" x2="267.50" y2="41.22" stroke="#1c1c1c" stroke-width="1.3"/>
<line x1="35.00" y1="26.36" x2="38.00" y2="26.36" stroke="#1c1c1c" stroke-width="1.3"/>
<line x1="270.50" y1="26.36" x2="267.50" y2="26.36" stroke="#1c1c1c" stroke-width="1.3"/>
<line x1="35.00" y1="11.50" x2="38.00" y2="11.50" stroke="#1c1c1c" stroke-width="1.3"/>
<line x1="270.50" y1="11.50" x2="267.50" y2="11.50" stroke="#1c1c1c" stroke-width="1.3"/>
<rect x="35.00" y="11.50" width="235.50" height="148.60" fill="none" stroke="#1c1c1c" stroke-width="1.3"/>
<text x="34.30" y="171.20" font-size="8.7" text-anchor="middle">65</text>
<text x="73.55" y="171.20" font-size="8.7" text-anchor="middle">67.5</text>
<text x="112.80" y="171.20" font-size="8.7" text-anchor="middle">70</text>
<text x="152.05" y="171.20" font-size="8.7" text-anchor="middle">72.5</text>
<text x="191.30" y="171.20" font-size="8.7" text-anchor="middle">75</text>
<text x="230.55" y="171.20" font-size="8.7" text-anchor="middle">77.5</text>
<text x="269.80" y="171.20" font-size="8.7" text-anchor="middle">80</text>
<text x="33.20" y="163.05" font-size="9.0" text-anchor="end">0</text>
<text x="32.98" y="148.19" font-size="9.0" text-anchor="end">0.1</text>
<text x="32.76" y="133.33" font-size="9.0" text-anchor="end">0.2</text>
<text x="32.54" y="118.47" font-size="9.0" text-anchor="end">0.3</text>
<text x="32.32" y="103.61" font-size="9.0" text-anchor="end">0.4</text>
<text x="32.10" y="88.75" font-size="9.0" text-anchor="end">0.5</text>
<text x="31.88" y="73.89" font-size="9.0" text-anchor="end">0.6</text>
<text x="31.66" y="59.03" font-size="9.0" text-anchor="end">0.7</text>
<text x="31.44" y="44.17" font-size="9.0" text-anchor="end">0.8</text>
<text x="31.22" y="29.31" font-size="9.0" text-anchor="end">0.9</text>
<text x="31.00" y="14.45" font-size="9.0" text-anchor="end">1.0</text>
<text x="38.50" y="21.30" font-size="10.5" text-anchor="start">(a)</text>
<text x="152.30" y="25.80" font-size="12" text-anchor="middle">Pure Water</text>
<text x="152.75" y="180.70" font-size="9.5" text-anchor="middle">Incident Angle&#160;&#160;(&#176;)</text>
<text x="0" y="0" font-size="9.6" text-anchor="middle" transform="translate(15.20,87.00) rotate(-90)">Reflectivity (a.u)</text>
<text x="228.20" y="83.50" font-size="9" text-anchor="middle">Graphene</text>
<line x1="208.00" y1="90.30" x2="221.80" y2="90.30" stroke="#3d4497" stroke-width="1.1"/>
<text x="225.20" y="92.60" font-size="9"><tspan font-style="italic">L</tspan><tspan stroke-width="0">=</tspan><tspan>1</tspan></text>
<line x1="208.00" y1="98.90" x2="221.80" y2="98.90" stroke="#62b63a" stroke-width="1.1"/>
<text x="225.20" y="101.20" font-size="9"><tspan font-style="italic">L</tspan><tspan stroke-width="0">=</tspan><tspan>2</tspan></text>
<line x1="208.00" y1="107.70" x2="221.80" y2="107.70" stroke="#ee3a2e" stroke-width="1.1"/>
<text x="225.20" y="110.00" font-size="9"><tspan font-style="italic">L</tspan><tspan stroke-width="0">=</tspan><tspan>3</tspan></text>
<line x1="208.00" y1="117.00" x2="221.80" y2="117.00" stroke="#3d4497" stroke-width="1.1"/>
<text x="225.20" y="119.30" font-size="9"><tspan font-style="italic">L</tspan><tspan stroke-width="0">=</tspan><tspan>4</tspan></text>
<line x1="208.00" y1="126.20" x2="221.80" y2="126.20" stroke="#62b63a" stroke-width="1.1"/>
<text x="225.20" y="128.50" font-size="9"><tspan font-style="italic">L</tspan><tspan stroke-width="0">=</tspan><tspan>5</tspan></text>
<clipPath id="clipb"><rect x="304.2" y="11.7" width="235.3" height="148.60000000000002"/></clipPath>
<g clip-path="url(#clipb)">
<polyline points="304.20,32.13 304.79,32.39 305.38,32.65 305.97,32.92 306.56,33.20 307.15,33.48 307.74,33.77 308.33,34.06 308.92,34.36 309.51,34.66 310.10,34.97 310.69,35.28 311.28,35.60 311.87,35.93 312.46,36.26 313.05,36.60 313.64,36.95 314.23,37.30 314.82,37.66 315.40,38.02 315.99,38.40 316.58,38.78 317.17,39.16 317.76,39.56 318.35,39.96 318.94,40.37 319.53,40.78 320.12,41.21 320.71,41.64 321.30,42.08 321.89,42.53 322.48,42.98 323.07,43.45 323.66,43.92 324.25,44.40 324.84,44.89 325.43,45.39 326.02,45.90 326.61,46.42 327.20,46.95 327.79,47.48 328.38,48.03 328.97,48.58 329.56,49.15 330.15,49.73 330.74,50.31 331.33,50.91 331.92,51.52 332.51,52.13 333.10,52.76 333.69,53.40 334.28,54.05 334.87,54.71 335.46,55.38 336.05,56.07 336.63,56.76 337.22,57.47 337.81,58.18 338.40,58.91 338.99,59.65 339.58,60.41 340.17,61.17 340.76,61.95 341.35,62.74 341.94,63.54 342.53,64.36 343.12,65.18 343.71,66.02 344.30,66.87 344.89,67.73 345.48,68.61 346.07,69.50 346.66,70.40 347.25,71.31 347.84,72.24 348.43,73.18 349.02,74.13 349.61,75.09 350.20,76.07 350.79,77.05 351.38,78.05 351.97,79.06 352.56,80.09 353.15,81.12 353.74,82.17 354.33,83.22 354.92,84.29 355.51,85.37 356.10,86.46 356.69,87.56 357.28,88.67 357.86,89.79 358.45,90.91 359.04,92.05 359.63,93.20 360.22,94.35 360.81,95.51 361.40,96.68 361.99,97.86 362.58,99.04 363.17,100.22 363.76,101.42 364.35,102.61 364.94,103.81 365.53,105.02 366.12,106.22 366.71,107.43 367.30,108.64 367.89,109.85 368.48,111.06 369.07,112.27 369.66,113.48 370.25,114.69 370.84,115.89 371.43,117.08 372.02,118.28 372.61,119.46 373.20,120.64 373.79,121.81 374.38,122.98 374.97,124.13 375.56,125.27 376.15,126.41 376.74,127.53 377.33,128.63 377.92,129.72 378.51,130.80 379.09,131.86 379.68,132.91 380.27,133.93 380.86,134.94 381.45,135.93 382.04,136.89 382.63,137.84 383.22,138.76 383.81,139.67 384.40,140.54 384.99,141.40 385.58,142.22 386.17,143.03 386.76,143.80 387.35,144.55 387.94,145.27 388.53,145.97 389.12,146.63 389.71,147.27 390.30,147.87 390.89,148.45 391.48,149.00 392.07,149.51 392.66,150.00 393.25,150.45 393.84,150.88 394.43,151.27 395.02,151.63 395.61,151.96 396.20,152.26 396.79,152.53 397.38,152.76 397.97,152.97 398.56,153.15 399.15,153.29 399.74,153.40 400.33,153.49 400.91,153.54 401.50,153.57 402.09,153.57 402.68,153.54 403.27,153.48 403.86,153.39 404.45,153.27 405.04,153.13 405.63,152.97 406.22,152.78 406.81,152.56 407.40,152.32 407.99,152.06 408.58,151.77 409.17,151.46 409.76,151.13 410.35,150.78 410.94,150.41 411.53,150.01 412.12,149.60 412.71,149.17 413.30,148.73 413.89,148.26 414.48,147.78 415.07,147.29 415.66,146.78 416.25,146.25 416.84,145.72 417.43,145.16 418.02,144.60 418.61,144.02 419.20,143.44 419.79,142.84 420.38,142.23 420.97,141.62 421.56,140.99 422.14,140.36 422.73,139.71 423.32,139.06 423.91,138.41 424.50,137.75 425.09,137.08 425.68,136.41 426.27,135.73 426.86,135.05 427.45,134.36 428.04,133.67 428.63,132.98 429.22,132.28 429.81,131.59 430.40,130.89 430.99,130.19 431.58,129.48 432.17,128.78 432.76,128.08 433.35,127.37 433.94,126.67 434.53,125.96 435.12,125.26 435.71,124.56 436.30,123.86 436.89,123.16 437.48,122.46 438.07,121.76 438.66,121.06 439.25,120.37 439.84,119.68 440.43,118.99 441.02,118.31 441.61,117.62 442.20,116.94 442.79,116.26 443.37,115.59 443.96,114.92 444.55,114.25 445.14,113.59 445.73,112.93 446.32,112.27 446.91,111.62 447.50,110.97 448.09,110.32 448.68,109.68 449.27,109.04 449.86,108.41 450.45,107.78 451.04,107.16 451.63,106.54 452.22,105.92 452.81,105.31 453.40,104.70 453.99,104.10 454.58,103.50 455.17,102.90 455.76,102.31 456.35,101.73 456.94,101.15 457.53,100.57 458.12,100.00 458.71,99.43 459.30,98.87 459.89,98.31 460.48,97.76 461.07,97.21 461.66,96.66 462.25,96.12 462.84,95.59 463.43,95.06 464.02,94.53 464.61,94.01 465.19,93.49 465.78,92.97 466.37,92.47 466.96,91.96 467.55,91.46 468.14,90.96 468.73,90.47 469.32,89.98 469.91,89.50 470.50,89.02 471.09,88.54 471.68,88.07 472.27,87.60 472.86,87.14 473.45,86.68 474.04,86.23 474.63,85.78 475.22,85.33 475.81,84.89 476.40,84.45 476.99,84.01 477.58,83.58 478.17,83.15 478.76,82.73 479.35,82.31 479.94,81.89 480.53,81.48 481.12,81.07 481.71,80.66 482.30,80.26 482.89,79.86 483.48,79.46 484.07,79.07 484.66,78.68 485.25,78.30 485.84,77.91 486.42,77.54 487.01,77.16 487.60,76.79 488.19,76.42 488.78,76.05 489.37,75.69 489.96,75.33 490.55,74.97 491.14,74.62 491.73,74.27 492.32,73.92 492.91,73.58 493.50,73.24 494.09,72.90 494.68,72.56 495.27,72.23 495.86,71.90 496.45,71.57 497.04,71.25 497.63,70.92 498.22,70.60 498.81,70.29 499.40,69.97 499.99,69.66 500.58,69.35 501.17,69.05 501.76,68.74 502.35,68.44 502.94,68.14 503.53,67.84 504.12,67.55 504.71,67.26 505.30,66.97 505.89,66.68 506.48,66.39 507.07,66.11 507.65,65.83 508.24,65.55 508.83,65.28 509.42,65.00 510.01,64.73 510.60,64.46 511.19,64.19 511.78,63.93 512.37,63.66 512.96,63.40 513.55,63.14 514.14,62.88 514.73,62.63 515.32,62.37 515.91,62.12 516.50,61.87 517.09,61.62 517.68,61.38 518.27,61.13 518.86,60.89 519.45,60.65 520.04,60.41 520.63,60.17 521.22,59.94 521.81,59.70 522.40,59.47 522.99,59.24 523.58,59.01 524.17,58.78 524.76,58.56 525.35,58.33 525.94,58.11 526.53,57.89 527.12,57.67 527.71,57.45 528.30,57.23 528.88,57.02 529.47,56.81 530.06,56.59 530.65,56.38 531.24,56.17 531.83,55.96 532.42,55.76 533.01,55.55 533.60,55.35 534.19,55.15 534.78,54.95 535.37,54.75 535.96,54.55 536.55,54.35 537.14,54.15 537.73,53.96 538.32,53.76 538.91,53.57 539.50,53.38" fill="none" stroke="#3d4497" stroke-width="1.3" stroke-linejoin="round"/>
<polyline points="304.20,33.13 304.79,33.38 305.38,33.64 305.97,33.90 306.56,34.16 307.15,34.43 307.74,34.71 308.33,34.99 308.92,35.27 309.51,35.56 310.10,35.85 310.69,36.15 311.28,36.45 311.87,36.76 312.46,37.07 313.05,37.39 313.64,37.72 314.23,38.05 314.82,38.38 315.40,38.72 315.99,39.07 316.58,39.42 317.17,39.78 317.76,40.15 318.35,40.52 318.94,40.90 319.53,41.28 320.12,41.67 320.71,42.07 321.30,42.47 321.89,42.88 322.48,43.30 323.07,43.72 323.66,44.16 324.25,44.59 324.84,45.04 325.43,45.49 326.02,45.95 326.61,46.42 327.20,46.90 327.79,47.38 328.38,47.87 328.97,48.37 329.56,48.88 330.15,49.39 330.74,49.92 331.33,50.45 331.92,50.99 332.51,51.54 333.10,52.10 333.69,52.66 334.28,53.24 334.87,53.82 335.46,54.42 336.05,55.02 336.63,55.63 337.22,56.25 337.81,56.88 338.40,57.52 338.99,58.17 339.58,58.83 340.17,59.50 340.76,60.18 341.35,60.87 341.94,61.57 342.53,62.28 343.12,63.00 343.71,63.73 344.30,64.47 344.89,65.21 345.48,65.97 346.07,66.74 346.66,67.53 347.25,68.32 347.84,69.12 348.43,69.93 349.02,70.75 349.61,71.59 350.20,72.43 350.79,73.28 351.38,74.15 351.97,75.02 352.56,75.90 353.15,76.80 353.74,77.70 354.33,78.62 354.92,79.55 355.51,80.48 356.10,81.43 356.69,82.38 357.28,83.35 357.86,84.32 358.45,85.30 359.04,86.30 359.63,87.30 360.22,88.31 360.81,89.33 361.40,90.35 361.99,91.39 362.58,92.43 363.17,93.48 363.76,94.54 364.35,95.61 364.94,96.68 365.53,97.76 366.12,98.84 366.71,99.93 367.30,101.03 367.89,102.13 368.48,103.23 369.07,104.34 369.66,105.45 370.25,106.57 370.84,107.69 371.43,108.81 372.02,109.93 372.61,111.05 373.20,112.18 373.79,113.30 374.38,114.42 374.97,115.55 375.56,116.67 376.15,117.79 376.74,118.90 377.33,120.01 377.92,121.12 378.51,122.22 379.09,123.32 379.68,124.41 380.27,125.50 380.86,126.57 381.45,127.64 382.04,128.70 382.63,129.75 383.22,130.79 383.81,131.82 384.40,132.84 384.99,133.84 385.58,134.83 386.17,135.81 386.76,136.77 387.35,137.72 387.94,138.66 388.53,139.57 389.12,140.47 389.71,141.35 390.30,142.21 390.89,143.06 391.48,143.88 392.07,144.69 392.66,145.47 393.25,146.23 393.84,146.98 394.43,147.70 395.02,148.39 395.61,149.07 396.20,149.72 396.79,150.34 397.38,150.95 397.97,151.52 398.56,152.08 399.15,152.61 399.74,153.11 400.33,153.59 400.91,154.04 401.50,154.47 402.09,154.87 402.68,155.24 403.27,155.59 403.86,155.91 404.45,156.21 405.04,156.48 405.63,156.73 406.22,156.94 406.81,157.14 407.40,157.30 407.99,157.45 408.58,157.56 409.17,157.65 409.76,157.72 410.35,157.76 410.94,157.78 411.53,157.78 412.12,157.75 412.71,157.69 413.30,157.62 413.89,157.52 414.48,157.40 415.07,157.25 415.66,157.09 416.25,156.90 416.84,156.70 417.43,156.47 418.02,156.23 418.61,155.96 419.20,155.68 419.79,155.38 420.38,155.06 420.97,154.72 421.56,154.37 422.14,154.00 422.73,153.61 423.32,153.21 423.91,152.80 424.50,152.37 425.09,151.92 425.68,151.47 426.27,151.00 426.86,150.52 427.45,150.02 428.04,149.52 428.63,149.00 429.22,148.48 429.81,147.94 430.40,147.40 430.99,146.84 431.58,146.28 432.17,145.71 432.76,145.13 433.35,144.55 433.94,143.95 434.53,143.36 435.12,142.75 435.71,142.14 436.30,141.52 436.89,140.90 437.48,140.28 438.07,139.65 438.66,139.02 439.25,138.38 439.84,137.74 440.43,137.10 441.02,136.45 441.61,135.80 442.20,135.16 442.79,134.50 443.37,133.85 443.96,133.20 444.55,132.54 445.14,131.89 445.73,131.23 446.32,130.57 446.91,129.92 447.50,129.26 448.09,128.60 448.68,127.95 449.27,127.29 449.86,126.64 450.45,125.99 451.04,125.34 451.63,124.69 452.22,124.04 452.81,123.39 453.40,122.74 453.99,122.10 454.58,121.46 455.17,120.82 455.76,120.18 456.35,119.55 456.94,118.92 457.53,118.29 458.12,117.66 458.71,117.04 459.30,116.42 459.89,115.80 460.48,115.19 461.07,114.57 461.66,113.97 462.25,113.36 462.84,112.76 463.43,112.16 464.02,111.56 464.61,110.97 465.19,110.38 465.78,109.80 466.37,109.22 466.96,108.64 467.55,108.06 468.14,107.49 468.73,106.92 469.32,106.36 469.91,105.80 470.50,105.24 471.09,104.69 471.68,104.14 472.27,103.60 472.86,103.06 473.45,102.52 474.04,101.98 474.63,101.45 475.22,100.93 475.81,100.40 476.40,99.88 476.99,99.37 477.58,98.86 478.17,98.35 478.76,97.84 479.35,97.34 479.94,96.85 480.53,96.35 481.12,95.86 481.71,95.38 482.30,94.89 482.89,94.41 483.48,93.94 484.07,93.47 484.66,93.00 485.25,92.53 485.84,92.07 486.42,91.61 487.01,91.16 487.60,90.71 488.19,90.26 488.78,89.82 489.37,89.38 489.96,88.94 490.55,88.51 491.14,88.08 491.73,87.65 492.32,87.23 492.91,86.80 493.50,86.39 494.09,85.97 494.68,85.56 495.27,85.15 495.86,84.75 496.45,84.35 497.04,83.95 497.63,83.55 498.22,83.16 498.81,82.77 499.40,82.39 499.99,82.00 500.58,81.62 501.17,81.24 501.76,80.87 502.35,80.50 502.94,80.13 503.53,79.76 504.12,79.40 504.71,79.04 505.30,78.68 505.89,78.32 506.48,77.97 507.07,77.62 507.65,77.27 508.24,76.93 508.83,76.59 509.42,76.25 510.01,75.91 510.60,75.58 511.19,75.24 511.78,74.91 512.37,74.59 512.96,74.26 513.55,73.94 514.14,73.62 514.73,73.30 515.32,72.99 515.91,72.67 516.50,72.36 517.09,72.05 517.68,71.75 518.27,71.44 518.86,71.14 519.45,70.84 520.04,70.54 520.63,70.25 521.22,69.96 521.81,69.66 522.40,69.37 522.99,69.09 523.58,68.80 524.17,68.52 524.76,68.24 525.35,67.96 525.94,67.68 526.53,67.41 527.12,67.13 527.71,66.86 528.30,66.59 528.88,66.32 529.47,66.06 530.06,65.79 530.65,65.53 531.24,65.27 531.83,65.01 532.42,64.75 533.01,64.50 533.60,64.24 534.19,63.99 534.78,63.74 535.37,63.49 535.96,63.24 536.55,63.00 537.14,62.75 537.73,62.51 538.32,62.27 538.91,62.03 539.50,61.79" fill="none" stroke="#62b63a" stroke-width="1.3" stroke-linejoin="round"/>
<polyline points="304.20,33.77 304.79,34.01 305.38,34.26 305.97,34.50 306.56,34.75 307.15,35.01 307.74,35.27 308.33,35.53 308.92,35.80 309.51,36.07 310.10,36.34 310.69,36.62 311.28,36.91 311.87,37.19 312.46,37.49 313.05,37.79 313.64,38.09 314.23,38.39 314.82,38.71 315.40,39.02 315.99,39.34 316.58,39.67 317.17,40.00 317.76,40.34 318.35,40.68 318.94,41.03 319.53,41.38 320.12,41.74 320.71,42.10 321.30,42.47 321.89,42.84 322.48,43.22 323.07,43.61 323.66,44.00 324.25,44.40 324.84,44.80 325.43,45.21 326.02,45.62 326.61,46.05 327.20,46.47 327.79,46.91 328.38,47.35 328.97,47.80 329.56,48.25 330.15,48.71 330.74,49.18 331.33,49.65 331.92,50.13 332.51,50.62 333.10,51.12 333.69,51.62 334.28,52.13 334.87,52.65 335.46,53.17 336.05,53.70 336.63,54.24 337.22,54.79 337.81,55.34 338.40,55.91 338.99,56.48 339.58,57.05 340.17,57.64 340.76,58.23 341.35,58.83 341.94,59.44 342.53,60.06 343.12,60.69 343.71,61.32 344.30,61.97 344.89,62.62 345.48,63.28 346.07,63.94 346.66,64.62 347.25,65.31 347.84,66.00 348.43,66.70 349.02,67.41 349.61,68.13 350.20,68.86 350.79,69.60 351.38,70.34 351.97,71.10 352.56,71.86 353.15,72.63 353.74,73.41 354.33,74.20 354.92,75.00 355.51,75.80 356.10,76.62 356.69,77.44 357.28,78.27 357.86,79.11 358.45,79.96 359.04,80.82 359.63,81.68 360.22,82.56 360.81,83.44 361.40,84.33 361.99,85.22 362.58,86.13 363.17,87.04 363.76,87.96 364.35,88.89 364.94,89.82 365.53,90.76 366.12,91.71 366.71,92.66 367.30,93.63 367.89,94.59 368.48,95.57 369.07,96.55 369.66,97.53 370.25,98.52 370.84,99.52 371.43,100.52 372.02,101.52 372.61,102.53 373.20,103.54 373.79,104.56 374.38,105.58 374.97,106.60 375.56,107.62 376.15,108.65 376.74,109.68 377.33,110.71 377.92,111.74 378.51,112.78 379.09,113.81 379.68,114.84 380.27,115.87 380.86,116.90 381.45,117.93 382.04,118.96 382.63,119.99 383.22,121.01 383.81,122.03 384.40,123.04 384.99,124.05 385.58,125.06 386.17,126.06 386.76,127.06 387.35,128.04 387.94,129.03 388.53,130.00 389.12,130.97 389.71,131.93 390.30,132.87 390.89,133.81 391.48,134.74 392.07,135.66 392.66,136.57 393.25,137.47 393.84,138.35 394.43,139.23 395.02,140.09 395.61,140.93 396.20,141.77 396.79,142.58 397.38,143.39 397.97,144.17 398.56,144.95 399.15,145.70 399.74,146.44 400.33,147.16 400.91,147.87 401.50,148.55 402.09,149.22 402.68,149.87 403.27,150.50 403.86,151.12 404.45,151.71 405.04,152.28 405.63,152.84 406.22,153.37 406.81,153.88 407.40,154.38 407.99,154.85 408.58,155.30 409.17,155.73 409.76,156.14 410.35,156.52 410.94,156.89 411.53,157.23 412.12,157.55 412.71,157.86 413.30,158.14 413.89,158.39 414.48,158.63 415.07,158.85 415.66,159.04 416.25,159.21 416.84,159.36 417.43,159.49 418.02,159.60 418.61,159.69 419.20,159.76 419.79,159.81 420.38,159.84 420.97,159.84 421.56,159.83 422.14,159.80 422.73,159.75 423.32,159.68 423.91,159.59 424.50,159.48 425.09,159.36 425.68,159.22 426.27,159.06 426.86,158.88 427.45,158.69 428.04,158.47 428.63,158.25 429.22,158.01 429.81,157.75 430.40,157.47 430.99,157.19 431.58,156.88 432.17,156.57 432.76,156.24 433.35,155.89 433.94,155.54 434.53,155.17 435.12,154.79 435.71,154.40 436.30,153.99 436.89,153.58 437.48,153.15 438.07,152.72 438.66,152.27 439.25,151.82 439.84,151.35 440.43,150.88 441.02,150.40 441.61,149.91 442.20,149.41 442.79,148.90 443.37,148.39 443.96,147.87 444.55,147.34 445.14,146.81 445.73,146.27 446.32,145.73 446.91,145.18 447.50,144.63 448.09,144.07 448.68,143.50 449.27,142.94 449.86,142.37 450.45,141.79 451.04,141.21 451.63,140.63 452.22,140.05 452.81,139.46 453.40,138.87 453.99,138.28 454.58,137.68 455.17,137.09 455.76,136.49 456.35,135.89 456.94,135.29 457.53,134.69 458.12,134.09 458.71,133.48 459.30,132.88 459.89,132.28 460.48,131.68 461.07,131.07 461.66,130.47 462.25,129.87 462.84,129.26 463.43,128.66 464.02,128.06 464.61,127.46 465.19,126.86 465.78,126.26 466.37,125.67 466.96,125.07 467.55,124.48 468.14,123.88 468.73,123.29 469.32,122.70 469.91,122.11 470.50,121.53 471.09,120.94 471.68,120.36 472.27,119.78 472.86,119.20 473.45,118.63 474.04,118.05 474.63,117.48 475.22,116.91 475.81,116.35 476.40,115.78 476.99,115.22 477.58,114.66 478.17,114.11 478.76,113.55 479.35,113.00 479.94,112.45 480.53,111.91 481.12,111.37 481.71,110.83 482.30,110.29 482.89,109.76 483.48,109.22 484.07,108.70 484.66,108.17 485.25,107.65 485.84,107.13 486.42,106.61 487.01,106.10 487.60,105.59 488.19,105.08 488.78,104.58 489.37,104.07 489.96,103.58 490.55,103.08 491.14,102.59 491.73,102.10 492.32,101.61 492.91,101.13 493.50,100.65 494.09,100.17 494.68,99.70 495.27,99.22 495.86,98.76 496.45,98.29 497.04,97.83 497.63,97.37 498.22,96.91 498.81,96.46 499.40,96.01 499.99,95.56 500.58,95.11 501.17,94.67 501.76,94.23 502.35,93.80 502.94,93.36 503.53,92.93 504.12,92.51 504.71,92.08 505.30,91.66 505.89,91.24 506.48,90.82 507.07,90.41 507.65,90.00 508.24,89.59 508.83,89.19 509.42,88.78 510.01,88.38 510.60,87.99 511.19,87.59 511.78,87.20 512.37,86.81 512.96,86.43 513.55,86.04 514.14,85.66 514.73,85.28 515.32,84.90 515.91,84.53 516.50,84.16 517.09,83.79 517.68,83.42 518.27,83.06 518.86,82.70 519.45,82.34 520.04,81.98 520.63,81.63 521.22,81.28 521.81,80.93 522.40,80.58 522.99,80.23 523.58,79.89 524.17,79.55 524.76,79.21 525.35,78.87 525.94,78.54 526.53,78.21 527.12,77.88 527.71,77.55 528.30,77.23 528.88,76.90 529.47,76.58 530.06,76.26 530.65,75.95 531.24,75.63 531.83,75.32 532.42,75.01 533.01,74.70 533.60,74.39 534.19,74.09 534.78,73.78 535.37,73.48 535.96,73.18 536.55,72.89 537.14,72.59 537.73,72.30 538.32,72.00 538.91,71.71 539.50,71.43" fill="none" stroke="#161616" stroke-width="1.3" stroke-linejoin="round"/>
<polyline points="304.20,34.16 304.79,34.39 305.38,34.61 305.97,34.85 306.56,35.08 307.15,35.32 307.74,35.57 308.33,35.81 308.92,36.06 309.51,36.31 310.10,36.57 310.69,36.83 311.28,37.10 311.87,37.37 312.46,37.64 313.05,37.91 313.64,38.19 314.23,38.48 314.82,38.77 315.40,39.06 315.99,39.35 316.58,39.65 317.17,39.96 317.76,40.27 318.35,40.58 318.94,40.90 319.53,41.22 320.12,41.55 320.71,41.88 321.30,42.22 321.89,42.56 322.48,42.90 323.07,43.25 323.66,43.61 324.25,43.97 324.84,44.33 325.43,44.70 326.02,45.08 326.61,45.46 327.20,45.84 327.79,46.23 328.38,46.63 328.97,47.03 329.56,47.44 330.15,47.85 330.74,48.27 331.33,48.69 331.92,49.12 332.51,49.56 333.10,50.00 333.69,50.44 334.28,50.90 334.87,51.35 335.46,51.82 336.05,52.29 336.63,52.77 337.22,53.25 337.81,53.74 338.40,54.23 338.99,54.73 339.58,55.24 340.17,55.76 340.76,56.28 341.35,56.80 341.94,57.34 342.53,57.88 343.12,58.43 343.71,58.98 344.30,59.54 344.89,60.11 345.48,60.68 346.07,61.26 346.66,61.85 347.25,62.45 347.84,63.05 348.43,63.66 349.02,64.27 349.61,64.90 350.20,65.53 350.79,66.16 351.38,66.81 351.97,67.46 352.56,68.12 353.15,68.79 353.74,69.46 354.33,70.14 354.92,70.83 355.51,71.52 356.10,72.22 356.69,72.93 357.28,73.65 357.86,74.37 358.45,75.11 359.04,75.84 359.63,76.59 360.22,77.34 360.81,78.10 361.40,78.87 361.99,79.64 362.58,80.42 363.17,81.21 363.76,82.00 364.35,82.80 364.94,83.61 365.53,84.42 366.12,85.24 366.71,86.07 367.30,86.90 367.89,87.74 368.48,88.58 369.07,89.43 369.66,90.29 370.25,91.15 370.84,92.02 371.43,92.89 372.02,93.77 372.61,94.66 373.20,95.54 373.79,96.44 374.38,97.33 374.97,98.24 375.56,99.14 376.15,100.05 376.74,100.97 377.33,101.89 377.92,102.81 378.51,103.73 379.09,104.66 379.68,105.59 380.27,106.52 380.86,107.46 381.45,108.39 382.04,109.33 382.63,110.27 383.22,111.21 383.81,112.15 384.40,113.09 384.99,114.04 385.58,114.98 386.17,115.92 386.76,116.86 387.35,117.80 387.94,118.74 388.53,119.67 389.12,120.60 389.71,121.54 390.30,122.46 390.89,123.39 391.48,124.31 392.07,125.23 392.66,126.14 393.25,127.05 393.84,127.95 394.43,128.84 395.02,129.74 395.61,130.62 396.20,131.50 396.79,132.37 397.38,133.23 397.97,134.09 398.56,134.94 399.15,135.77 399.74,136.60 400.33,137.42 400.91,138.23 401.50,139.03 402.09,139.82 402.68,140.60 403.27,141.37 403.86,142.13 404.45,142.87 405.04,143.60 405.63,144.32 406.22,145.03 406.81,145.72 407.40,146.40 407.99,147.07 408.58,147.72 409.17,148.36 409.76,148.98 410.35,149.59 410.94,150.18 411.53,150.76 412.12,151.32 412.71,151.86 413.30,152.39 413.89,152.90 414.48,153.40 415.07,153.88 415.66,154.34 416.25,154.79 416.84,155.22 417.43,155.63 418.02,156.02 418.61,156.40 419.20,156.76 419.79,157.10 420.38,157.43 420.97,157.73 421.56,158.02 422.14,158.29 422.73,158.55 423.32,158.78 423.91,159.00 424.50,159.20 425.09,159.39 425.68,159.55 426.27,159.70 426.86,159.83 427.45,159.95 428.04,160.04 428.63,160.12 429.22,160.19 429.81,160.23 430.40,160.26 430.99,160.27 431.58,160.27 432.17,160.25 432.76,160.22 433.35,160.17 433.94,160.10 434.53,160.02 435.12,159.92 435.71,159.81 436.30,159.69 436.89,159.55 437.48,159.39 438.07,159.22 438.66,159.04 439.25,158.85 439.84,158.64 440.43,158.42 441.02,158.18 441.61,157.94 442.20,157.68 442.79,157.41 443.37,157.12 443.96,156.83 444.55,156.53 445.14,156.21 445.73,155.89 446.32,155.55 446.91,155.20 447.50,154.85 448.09,154.48 448.68,154.11 449.27,153.73 449.86,153.34 450.45,152.94 451.04,152.53 451.63,152.11 452.22,151.69 452.81,151.26 453.40,150.82 453.99,150.38 454.58,149.93 455.17,149.47 455.76,149.01 456.35,148.54 456.94,148.07 457.53,147.59 458.12,147.10 458.71,146.61 459.30,146.12 459.89,145.62 460.48,145.12 461.07,144.61 461.66,144.10 462.25,143.59 462.84,143.07 463.43,142.55 464.02,142.02 464.61,141.50 465.19,140.97 465.78,140.44 466.37,139.90 466.96,139.37 467.55,138.83 468.14,138.29 468.73,137.75 469.32,137.21 469.91,136.66 470.50,136.12 471.09,135.57 471.68,135.02 472.27,134.48 472.86,133.93 473.45,133.38 474.04,132.83 474.63,132.28 475.22,131.73 475.81,131.18 476.40,130.63 476.99,130.08 477.58,129.53 478.17,128.98 478.76,128.44 479.35,127.89 479.94,127.34 480.53,126.80 481.12,126.25 481.71,125.71 482.30,125.16 482.89,124.62 483.48,124.08 484.07,123.54 484.66,123.00 485.25,122.46 485.84,121.93 486.42,121.39 487.01,120.86 487.60,120.33 488.19,119.80 488.78,119.27 489.37,118.74 489.96,118.22 490.55,117.70 491.14,117.18 491.73,116.66 492.32,116.14 492.91,115.62 493.50,115.11 494.09,114.60 494.68,114.09 495.27,113.58 495.86,113.08 496.45,112.58 497.04,112.08 497.63,111.58 498.22,111.08 498.81,110.59 499.40,110.10 499.99,109.61 500.58,109.12 501.17,108.64 501.76,108.15 502.35,107.67 502.94,107.20 503.53,106.72 504.12,106.25 504.71,105.78 505.30,105.31 505.89,104.84 506.48,104.38 507.07,103.92 507.65,103.46 508.24,103.01 508.83,102.55 509.42,102.10 510.01,101.65 510.60,101.21 511.19,100.76 511.78,100.32 512.37,99.88 512.96,99.44 513.55,99.01 514.14,98.58 514.73,98.15 515.32,97.72 515.91,97.29 516.50,96.87 517.09,96.45 517.68,96.03 518.27,95.62 518.86,95.20 519.45,94.79 520.04,94.39 520.63,93.98 521.22,93.58 521.81,93.17 522.40,92.77 522.99,92.38 523.58,91.98 524.17,91.59 524.76,91.20 525.35,90.81 525.94,90.43 526.53,90.04 527.12,89.66 527.71,89.28 528.30,88.91 528.88,88.53 529.47,88.16 530.06,87.79 530.65,87.42 531.24,87.05 531.83,86.69 532.42,86.33 533.01,85.97 533.60,85.61 534.19,85.25 534.78,84.90 535.37,84.55 535.96,84.20 536.55,83.85 537.14,83.51 537.73,83.16 538.32,82.82 538.91,82.48 539.50,82.14" fill="none" stroke="#6ccad2" stroke-width="1.3" stroke-linejoin="round"/>
<polyline points="304.20,34.36 304.79,34.57 305.38,34.79 305.97,35.01 306.56,35.23 307.15,35.45 307.74,35.68 308.33,35.91 308.92,36.14 309.51,36.38 310.10,36.62 310.69,36.86 311.28,37.11 311.87,37.36 312.46,37.61 313.05,37.87 313.64,38.12 314.23,38.39 314.82,38.65 315.40,38.92 315.99,39.20 316.58,39.47 317.17,39.75 317.76,40.04 318.35,40.32 318.94,40.61 319.53,40.91 320.12,41.21 320.71,41.51 321.30,41.82 321.89,42.13 322.48,42.44 323.07,42.76 323.66,43.08 324.25,43.41 324.84,43.74 325.43,44.07 326.02,44.41 326.61,44.76 327.20,45.10 327.79,45.46 328.38,45.81 328.97,46.17 329.56,46.54 330.15,46.91 330.74,47.28 331.33,47.66 331.92,48.05 332.51,48.43 333.10,48.83 333.69,49.23 334.28,49.63 334.87,50.04 335.46,50.45 336.05,50.87 336.63,51.29 337.22,51.72 337.81,52.15 338.40,52.59 338.99,53.03 339.58,53.48 340.17,53.93 340.76,54.39 341.35,54.86 341.94,55.33 342.53,55.80 343.12,56.28 343.71,56.77 344.30,57.26 344.89,57.76 345.48,58.26 346.07,58.77 346.66,59.28 347.25,59.80 347.84,60.33 348.43,60.86 349.02,61.39 349.61,61.94 350.20,62.48 350.79,63.04 351.38,63.60 351.97,64.16 352.56,64.74 353.15,65.31 353.74,65.90 354.33,66.49 354.92,67.08 355.51,67.68 356.10,68.29 356.69,68.90 357.28,69.52 357.86,70.15 358.45,70.78 359.04,71.42 359.63,72.06 360.22,72.71 360.81,73.37 361.40,74.03 361.99,74.69 362.58,75.37 363.17,76.04 363.76,76.73 364.35,77.42 364.94,78.12 365.53,78.82 366.12,79.52 366.71,80.24 367.30,80.96 367.89,81.68 368.48,82.41 369.07,83.15 369.66,83.89 370.25,84.63 370.84,85.38 371.43,86.14 372.02,86.90 372.61,87.67 373.20,88.44 373.79,89.21 374.38,90.00 374.97,90.78 375.56,91.57 376.15,92.37 376.74,93.16 377.33,93.97 377.92,94.77 378.51,95.58 379.09,96.40 379.68,97.22 380.27,98.04 380.86,98.86 381.45,99.69 382.04,100.52 382.63,101.36 383.22,102.20 383.81,103.03 384.40,103.88 384.99,104.72 385.58,105.57 386.17,106.41 386.76,107.26 387.35,108.11 387.94,108.97 388.53,109.82 389.12,110.67 389.71,111.53 390.30,112.38 390.89,113.23 391.48,114.09 392.07,114.94 392.66,115.79 393.25,116.65 393.84,117.50 394.43,118.35 395.02,119.19 395.61,120.04 396.20,120.88 396.79,121.72 397.38,122.56 397.97,123.40 398.56,124.23 399.15,125.06 399.74,125.88 400.33,126.70 400.91,127.52 401.50,128.33 402.09,129.13 402.68,129.93 403.27,130.73 403.86,131.52 404.45,132.30 405.04,133.08 405.63,133.85 406.22,134.61 406.81,135.37 407.40,136.11 407.99,136.85 408.58,137.58 409.17,138.31 409.76,139.02 410.35,139.73 410.94,140.42 411.53,141.11 412.12,141.79 412.71,142.46 413.30,143.11 413.89,143.76 414.48,144.39 415.07,145.02 415.66,145.63 416.25,146.24 416.84,146.83 417.43,147.40 418.02,147.97 418.61,148.53 419.20,149.07 419.79,149.60 420.38,150.11 420.97,150.62 421.56,151.11 422.14,151.59 422.73,152.05 423.32,152.50 423.91,152.94 424.50,153.36 425.09,153.77 425.68,154.17 426.27,154.55 426.86,154.91 427.45,155.27 428.04,155.61 428.63,155.93 429.22,156.24 429.81,156.54 430.40,156.82 430.99,157.09 431.58,157.34 432.17,157.58 432.76,157.80 433.35,158.01 433.94,158.20 434.53,158.38 435.12,158.55 435.71,158.70 436.30,158.84 436.89,158.96 437.48,159.07 438.07,159.17 438.66,159.25 439.25,159.32 439.84,159.37 440.43,159.41 441.02,159.44 441.61,159.45 442.20,159.45 442.79,159.44 443.37,159.41 443.96,159.37 444.55,159.32 445.14,159.26 445.73,159.18 446.32,159.09 446.91,158.99 447.50,158.88 448.09,158.75 448.68,158.62 449.27,158.47 449.86,158.31 450.45,158.14 451.04,157.96 451.63,157.77 452.22,157.57 452.81,157.35 453.40,157.13 453.99,156.90 454.58,156.66 455.17,156.41 455.76,156.14 456.35,155.87 456.94,155.60 457.53,155.31 458.12,155.01 458.71,154.71 459.30,154.40 459.89,154.08 460.48,153.75 461.07,153.41 461.66,153.07 462.25,152.72 462.84,152.36 463.43,152.00 464.02,151.63 464.61,151.25 465.19,150.87 465.78,150.48 466.37,150.09 466.96,149.69 467.55,149.28 468.14,148.87 468.73,148.46 469.32,148.04 469.91,147.61 470.50,147.18 471.09,146.75 471.68,146.31 472.27,145.87 472.86,145.42 473.45,144.98 474.04,144.52 474.63,144.07 475.22,143.61 475.81,143.14 476.40,142.68 476.99,142.21 477.58,141.74 478.17,141.27 478.76,140.79 479.35,140.31 479.94,139.83 480.53,139.35 481.12,138.87 481.71,138.38 482.30,137.89 482.89,137.40 483.48,136.91 484.07,136.42 484.66,135.93 485.25,135.44 485.84,134.94 486.42,134.45 487.01,133.95 487.60,133.45 488.19,132.96 488.78,132.46 489.37,131.96 489.96,131.46 490.55,130.96 491.14,130.47 491.73,129.97 492.32,129.47 492.91,128.97 493.50,128.47 494.09,127.97 494.68,127.48 495.27,126.98 495.86,126.48 496.45,125.99 497.04,125.49 497.63,125.00 498.22,124.50 498.81,124.01 499.40,123.52 499.99,123.02 500.58,122.53 501.17,122.04 501.76,121.56 502.35,121.07 502.94,120.58 503.53,120.10 504.12,119.61 504.71,119.13 505.30,118.65 505.89,118.17 506.48,117.69 507.07,117.21 507.65,116.73 508.24,116.26 508.83,115.79 509.42,115.31 510.01,114.84 510.60,114.38 511.19,113.91 511.78,113.44 512.37,112.98 512.96,112.52 513.55,112.06 514.14,111.60 514.73,111.14 515.32,110.68 515.91,110.23 516.50,109.78 517.09,109.33 517.68,108.88 518.27,108.43 518.86,107.99 519.45,107.55 520.04,107.10 520.63,106.66 521.22,106.23 521.81,105.79 522.40,105.36 522.99,104.93 523.58,104.50 524.17,104.07 524.76,103.64 525.35,103.22 525.94,102.79 526.53,102.37 527.12,101.95 527.71,101.54 528.30,101.12 528.88,100.71 529.47,100.30 530.06,99.89 530.65,99.48 531.24,99.07 531.83,98.67 532.42,98.27 533.01,97.87 533.60,97.47 534.19,97.07 534.78,96.68 535.37,96.29 535.96,95.90 536.55,95.51 537.14,95.12 537.73,94.74 538.32,94.35 538.91,93.97 539.50,93.59" fill="none" stroke="#ee3a2e" stroke-width="1.3" stroke-linejoin="round"/>
</g>
<line x1="304.20" y1="160.30" x2="304.20" y2="157.30" stroke="#1c1c1c" stroke-width="1.3"/>
<line x1="304.20" y1="11.70" x2="304.20" y2="14.70" stroke="#1c1c1c" stroke-width="1.3"/>
<line x1="363.02" y1="160.30" x2="363.02" y2="157.30" stroke="#1c1c1c" stroke-width="1.3"/>
<line x1="363.02" y1="11.70" x2="363.02" y2="14.70" stroke="#1c1c1c" stroke-width="1.3"/>
<line x1="421.85" y1="160.30" x2="421.85" y2="157.30" stroke="#1c1c1c" stroke-width="1.3"/>
<line x1="421.85" y1="11.70" x2="421.85" y2="14.70" stroke="#1c1c1c" stroke-width="1.3"/>
<line x1="480.68" y1="160.30" x2="480.68" y2="157.30" stroke="#1c1c1c" stroke-width="1.3"/>
<line x1="480.68" y1="11.70" x2="480.68" y2="14.70" stroke="#1c1c1c" stroke-width="1.3"/>
<line x1="539.50" y1="160.30" x2="539.50" y2="157.30" stroke="#1c1c1c" stroke-width="1.3"/>
<line x1="539.50" y1="11.70" x2="539.50" y2="14.70" stroke="#1c1c1c" stroke-width="1.3"/>
<line x1="304.20" y1="160.30" x2="307.20" y2="160.30" stroke="#1c1c1c" stroke-width="1.3"/>
<line x1="539.50" y1="160.30" x2="536.50" y2="160.30" stroke="#1c1c1c" stroke-width="1.3"/>
<line x1="304.20" y1="145.44" x2="307.20" y2="145.44" stroke="#1c1c1c" stroke-width="1.3"/>
<line x1="539.50" y1="145.44" x2="536.50" y2="145.44" stroke="#1c1c1c" stroke-width="1.3"/>
<line x1="304.20" y1="130.58" x2="307.20" y2="130.58" stroke="#1c1c1c" stroke-width="1.3"/>
<line x1="539.50" y1="130.58" x2="536.50" y2="130.58" stroke="#1c1c1c" stroke-width="1.3"/>
<line x1="304.20" y1="115.72" x2="307.20" y2="115.72" stroke="#1c1c1c" stroke-width="1.3"/>
<line x1="539.50" y1="115.72" x2="536.50" y2="115.72" stroke="#1c1c1c" stroke-width="1.3"/>
<line x1="304.20" y1="100.86" x2="307.20" y2="100.86" stroke="#1c1c1c" stroke-width="1.3"/>
<line x1="539.50" y1="100.86" x2="536.50" y2="100.86" stroke="#1c1c1c" stroke-width="1.3"/>
<line x1="304.20" y1="86.00" x2="307.20" y2="86.00" stroke="#1c1c1c" stroke-width="1.3"/>
<line x1="539.50" y1="86.00" x2="536.50" y2="86.00" stroke="#1c1c1c" stroke-width="1.3"/>
<line x1="304.20" y1="71.14" x2="307.20" y2="71.14" stroke="#1c1c1c" stroke-width="1.3"/>
<line x1="539.50" y1="71.14" x2="536.50" y2="71.14" stroke="#1c1c1c" stroke-width="1.3"/>
<line x1="304.20" y1="56.28" x2="307.20" y2="56.28" stroke="#1c1c1c" stroke-width="1.3"/>
<line x1="539.50" y1="56.28" x2="536.50" y2="56.28" stroke="#1c1c1c" stroke-width="1.3"/>
<line x1="304.20" y1="41.42" x2="307.20" y2="41.42" stroke="#1c1c1c" stroke-width="1.3"/>
<line x1="539.50" y1="41.42" x2="536.50" y2="41.42" stroke="#1c1c1c" stroke-width="1.3"/>
<line x1="304.20" y1="26.56" x2="307.20" y2="26.56" stroke="#1c1c1c" stroke-width="1.3"/>
<line x1="539.50" y1="26.56" x2="536.50" y2="26.56" stroke="#1c1c1c" stroke-width="1.3"/>
<line x1="304.20" y1="11.70" x2="307.20" y2="11.70" stroke="#1c1c1c" stroke-width="1.3"/>
<line x1="539.50" y1="11.70" x2="536.50" y2="11.70" stroke="#1c1c1c" stroke-width="1.3"/>
<rect x="304.20" y="11.70" width="235.30" height="148.60" fill="none" stroke="#1c1c1c" stroke-width="1.3"/>
<text x="303.50" y="171.40" font-size="8.7" text-anchor="middle">70</text>
<text x="362.32" y="171.40" font-size="8.7" text-anchor="middle">72.5</text>
<text x="421.15" y="171.40" font-size="8.7" text-anchor="middle">75</text>
<text x="479.98" y="171.40" font-size="8.7" text-anchor="middle">77.5</text>
<text x="538.80" y="171.40" font-size="8.7" text-anchor="middle">80</text>
<text x="302.40" y="163.25" font-size="9.0" text-anchor="end">0</text>
<text x="302.18" y="148.39" font-size="9.0" text-anchor="end">0.1</text>
<text x="301.96" y="133.53" font-size="9.0" text-anchor="end">0.2</text>
<text x="301.74" y="118.67" font-size="9.0" text-anchor="end">0.3</text>
<text x="301.52" y="103.81" font-size="9.0" text-anchor="end">0.4</text>
<text x="301.30" y="88.95" font-size="9.0" text-anchor="end">0.5</text>
<text x="301.08" y="74.09" font-size="9.0" text-anchor="end">0.6</text>
<text x="300.86" y="59.23" font-size="9.0" text-anchor="end">0.7</text>
<text x="300.64" y="44.37" font-size="9.0" text-anchor="end">0.8</text>
<text x="300.42" y="29.51" font-size="9.0" text-anchor="end">0.9</text>
<text x="300.20" y="14.65" font-size="9.0" text-anchor="end">1.0</text>
<text x="307.70" y="23.20" font-size="10.5" text-anchor="start">(b)</text>
<text x="422.40" y="27.60" font-size="12" text-anchor="middle">V.cholera</text>
<text x="421.85" y="180.90" font-size="9.5" text-anchor="middle">Incident Angle&#160;&#160;(&#176;)</text>
<text x="0" y="0" font-size="9.6" text-anchor="middle" transform="translate(284.40,87.20) rotate(-90)">Reflectivity (a.u)</text>
<text x="329.20" y="96.00" font-size="9" text-anchor="middle">Graphene</text>
<line x1="309.20" y1="102.70" x2="322.70" y2="102.70" stroke="#3d4497" stroke-width="1.1"/>
<text x="325.40" y="105.00" font-size="9"><tspan font-style="italic">L</tspan><tspan stroke-width="0">=</tspan><tspan>1</tspan></text>
<line x1="309.20" y1="110.60" x2="322.70" y2="110.60" stroke="#62b63a" stroke-width="1.1"/>
<text x="325.40" y="112.90" font-size="9"><tspan font-style="italic">L</tspan><tspan stroke-width="0">=</tspan><tspan>2</tspan></text>
<line x1="309.20" y1="119.40" x2="322.70" y2="119.40" stroke="#ee3a2e" stroke-width="1.1"/>
<text x="325.40" y="121.70" font-size="9"><tspan font-style="italic">L</tspan><tspan stroke-width="0">=</tspan><tspan>3</tspan></text>
<line x1="309.20" y1="129.40" x2="322.70" y2="129.40" stroke="#3d4497" stroke-width="1.1"/>
<text x="325.40" y="131.70" font-size="9"><tspan font-style="italic">L</tspan><tspan stroke-width="0">=</tspan><tspan>4</tspan></text>
<line x1="309.20" y1="138.60" x2="322.70" y2="138.60" stroke="#62b63a" stroke-width="1.1"/>
<text x="325.40" y="140.90" font-size="9"><tspan font-style="italic">L</tspan><tspan stroke-width="0">=</tspan><tspan>5</tspan></text>
<clipPath id="clipc"><rect x="34.8" y="187.2" width="235.5" height="148.8"/></clipPath>
<g clip-path="url(#clipc)">
<polyline points="34.80,221.06 35.39,221.65 35.98,222.25 36.57,222.86 37.16,223.49 37.75,224.13 38.34,224.78 38.93,225.44 39.52,226.12 40.11,226.81 40.70,227.52 41.29,228.24 41.88,228.97 42.47,229.72 43.06,230.48 43.65,231.26 44.24,232.06 44.83,232.86 45.42,233.69 46.01,234.53 46.60,235.38 47.19,236.26 47.78,237.14 48.38,238.05 48.97,238.97 49.56,239.91 50.15,240.86 50.74,241.83 51.33,242.82 51.92,243.82 52.51,244.84 53.10,245.88 53.69,246.94 54.28,248.01 54.87,249.10 55.46,250.20 56.05,251.32 56.64,252.46 57.23,253.62 57.82,254.79 58.41,255.98 59.00,257.19 59.59,258.41 60.18,259.64 60.77,260.89 61.36,262.16 61.95,263.44 62.54,264.74 63.13,266.05 63.72,267.37 64.31,268.70 64.90,270.05 65.49,271.41 66.08,272.78 66.67,274.16 67.26,275.54 67.85,276.94 68.44,278.35 69.03,279.76 69.62,281.18 70.21,282.60 70.80,284.03 71.39,285.46 71.98,286.89 72.57,288.32 73.16,289.75 73.75,291.19 74.35,292.61 74.94,294.04 75.53,295.45 76.12,296.86 76.71,298.26 77.30,299.66 77.89,301.04 78.48,302.41 79.07,303.76 79.66,305.10 80.25,306.42 80.84,307.72 81.43,309.00 82.02,310.26 82.61,311.50 83.20,312.71 83.79,313.90 84.38,315.05 84.97,316.18 85.56,317.28 86.15,318.35 86.74,319.39 87.33,320.39 87.92,321.35 88.51,322.28 89.10,323.17 89.69,324.02 90.28,324.84 90.87,325.61 91.46,326.34 92.05,327.03 92.64,327.68 93.23,328.29 93.82,328.85 94.41,329.37 95.00,329.84 95.59,330.27 96.18,330.66 96.77,331.00 97.36,331.29 97.95,331.55 98.54,331.76 99.13,331.92 99.72,332.04 100.32,332.12 100.91,332.16 101.50,332.15 102.09,332.11 102.68,332.02 103.27,331.89 103.86,331.73 104.45,331.52 105.04,331.28 105.63,331.00 106.22,330.69 106.81,330.34 107.40,329.96 107.99,329.55 108.58,329.10 109.17,328.63 109.76,328.12 110.35,327.59 110.94,327.03 111.53,326.45 112.12,325.84 112.71,325.20 113.30,324.55 113.89,323.87 114.48,323.17 115.07,322.45 115.66,321.72 116.25,320.97 116.84,320.20 117.43,319.42 118.02,318.62 118.61,317.81 119.20,316.99 119.79,316.15 120.38,315.31 120.97,314.45 121.56,313.59 122.15,312.72 122.74,311.84 123.33,310.96 123.92,310.07 124.51,309.18 125.10,308.28 125.69,307.38 126.28,306.47 126.88,305.56 127.47,304.66 128.06,303.75 128.65,302.83 129.24,301.92 129.83,301.01 130.42,300.10 131.01,299.20 131.60,298.29 132.19,297.39 132.78,296.48 133.37,295.58 133.96,294.69 134.55,293.80 135.14,292.91 135.73,292.02 136.32,291.14 136.91,290.26 137.50,289.39 138.09,288.52 138.68,287.66 139.27,286.81 139.86,285.95 140.45,285.11 141.04,284.27 141.63,283.43 142.22,282.60 142.81,281.78 143.40,280.97 143.99,280.16 144.58,279.35 145.17,278.55 145.76,277.76 146.35,276.98 146.94,276.20 147.53,275.43 148.12,274.66 148.71,273.91 149.30,273.15 149.89,272.41 150.48,271.67 151.07,270.94 151.66,270.21 152.25,269.49 152.85,268.78 153.44,268.08 154.03,267.38 154.62,266.69 155.21,266.00 155.80,265.32 156.39,264.65 156.98,263.98 157.57,263.32 158.16,262.67 158.75,262.02 159.34,261.38 159.93,260.74 160.52,260.11 161.11,259.49 161.70,258.87 162.29,258.26 162.88,257.65 163.47,257.05 164.06,256.46 164.65,255.87 165.24,255.29 165.83,254.71 166.42,254.14 167.01,253.58 167.60,253.02 168.19,252.46 168.78,251.91 169.37,251.37 169.96,250.83 170.55,250.30 171.14,249.77 171.73,249.24 172.32,248.72 172.91,248.21 173.50,247.70 174.09,247.20 174.68,246.70 175.27,246.20 175.86,245.71 176.45,245.23 177.04,244.75 177.63,244.27 178.22,243.80 178.82,243.33 179.41,242.87 180.00,242.41 180.59,241.95 181.18,241.50 181.77,241.05 182.36,240.61 182.95,240.17 183.54,239.74 184.13,239.31 184.72,238.88 185.31,238.45 185.90,238.03 186.49,237.62 187.08,237.20 187.67,236.79 188.26,236.39 188.85,235.99 189.44,235.59 190.03,235.19 190.62,234.80 191.21,234.41 191.80,234.02 192.39,233.64 192.98,233.26 193.57,232.88 194.16,232.51 194.75,232.14 195.34,231.77 195.93,231.41 196.52,231.04 197.11,230.69 197.70,230.33 198.29,229.98 198.88,229.62 199.47,229.28 200.06,228.93 200.65,228.59 201.24,228.25 201.83,227.91 202.42,227.57 203.01,227.24 203.60,226.91 204.19,226.58 204.78,226.25 205.38,225.93 205.97,225.61 206.56,225.29 207.15,224.97 207.74,224.66 208.33,224.34 208.92,224.03 209.51,223.72 210.10,223.42 210.69,223.11 211.28,222.81 211.87,222.51 212.46,222.21 213.05,221.91 213.64,221.62 214.23,221.33 214.82,221.03 215.41,220.74 216.00,220.46 216.59,220.17 217.18,219.89 217.77,219.60 218.36,219.32 218.95,219.04 219.54,218.76 220.13,218.49 220.72,218.21 221.31,217.94 221.90,217.67 222.49,217.40 223.08,217.13 223.67,216.86 224.26,216.60 224.85,216.33 225.44,216.07 226.03,215.81 226.62,215.55 227.21,215.29 227.80,215.03 228.39,214.77 228.98,214.52 229.57,214.27 230.16,214.01 230.75,213.76 231.35,213.51 231.94,213.26 232.53,213.01 233.12,212.77 233.71,212.52 234.30,212.28 234.89,212.03 235.48,211.79 236.07,211.55 236.66,211.31 237.25,211.07 237.84,210.83 238.43,210.59 239.02,210.35 239.61,210.12 240.20,209.88 240.79,209.65 241.38,209.42 241.97,209.18 242.56,208.95 243.15,208.72 243.74,208.49 244.33,208.26 244.92,208.03 245.51,207.81 246.10,207.58 246.69,207.36 247.28,207.13 247.87,206.91 248.46,206.68 249.05,206.46 249.64,206.24 250.23,206.02 250.82,205.79 251.41,205.57 252.00,205.35 252.59,205.14 253.18,204.92 253.77,204.70 254.36,204.48 254.95,204.27 255.54,204.05 256.13,203.83 256.72,203.62 257.32,203.40 257.91,203.19 258.50,202.98 259.09,202.76 259.68,202.55 260.27,202.34 260.86,202.13 261.45,201.92 262.04,201.70 262.63,201.49 263.22,201.28 263.81,201.08 264.40,200.87 264.99,200.66 265.58,200.45 266.17,200.24 266.76,200.03 267.35,199.83 267.94,199.62 268.53,199.41 269.12,199.21 269.71,199.00 270.30,198.79" fill="none" stroke="#3d4497" stroke-width="1.3" stroke-linejoin="round"/>
<polyline points="34.80,221.10 35.39,221.63 35.98,222.17 36.57,222.72 37.16,223.28 37.75,223.85 38.34,224.43 38.93,225.02 39.52,225.62 40.11,226.23 40.70,226.85 41.29,227.49 41.88,228.14 42.47,228.79 43.06,229.46 43.65,230.14 44.24,230.84 44.83,231.54 45.42,232.26 46.01,232.99 46.60,233.73 47.19,234.49 47.78,235.26 48.38,236.04 48.97,236.83 49.56,237.64 50.15,238.46 50.74,239.29 51.33,240.14 51.92,241.00 52.51,241.87 53.10,242.76 53.69,243.66 54.28,244.58 54.87,245.51 55.46,246.45 56.05,247.41 56.64,248.38 57.23,249.36 57.82,250.36 58.41,251.37 59.00,252.40 59.59,253.43 60.18,254.49 60.77,255.55 61.36,256.63 61.95,257.72 62.54,258.83 63.13,259.95 63.72,261.08 64.31,262.22 64.90,263.38 65.49,264.54 66.08,265.72 66.67,266.91 67.26,268.11 67.85,269.32 68.44,270.55 69.03,271.78 69.62,273.02 70.21,274.27 70.80,275.52 71.39,276.79 71.98,278.06 72.57,279.34 73.16,280.63 73.75,281.92 74.35,283.21 74.94,284.51 75.53,285.81 76.12,287.12 76.71,288.42 77.30,289.73 77.89,291.04 78.48,292.34 79.07,293.65 79.66,294.95 80.25,296.25 80.84,297.54 81.43,298.83 82.02,300.11 82.61,301.38 83.20,302.65 83.79,303.90 84.38,305.14 84.97,306.38 85.56,307.60 86.15,308.80 86.74,309.99 87.33,311.17 87.92,312.32 88.51,313.46 89.10,314.58 89.69,315.68 90.28,316.75 90.87,317.81 91.46,318.84 92.05,319.85 92.64,320.83 93.23,321.78 93.82,322.71 94.41,323.61 95.00,324.48 95.59,325.32 96.18,326.13 96.77,326.91 97.36,327.66 97.95,328.37 98.54,329.05 99.13,329.70 99.72,330.32 100.32,330.90 100.91,331.44 101.50,331.95 102.09,332.43 102.68,332.86 103.27,333.27 103.86,333.63 104.45,333.96 105.04,334.26 105.63,334.52 106.22,334.74 106.81,334.93 107.40,335.08 107.99,335.20 108.58,335.28 109.17,335.33 109.76,335.34 110.35,335.32 110.94,335.27 111.53,335.18 112.12,335.06 112.71,334.91 113.30,334.73 113.89,334.52 114.48,334.28 115.07,334.01 115.66,333.71 116.25,333.38 116.84,333.02 117.43,332.64 118.02,332.24 118.61,331.80 119.20,331.35 119.79,330.87 120.38,330.37 120.97,329.85 121.56,329.30 122.15,328.74 122.74,328.16 123.33,327.56 123.92,326.94 124.51,326.30 125.10,325.65 125.69,324.98 126.28,324.30 126.88,323.61 127.47,322.90 128.06,322.18 128.65,321.44 129.24,320.70 129.83,319.95 130.42,319.18 131.01,318.41 131.60,317.63 132.19,316.84 132.78,316.05 133.37,315.24 133.96,314.43 134.55,313.62 135.14,312.80 135.73,311.98 136.32,311.15 136.91,310.32 137.50,309.49 138.09,308.65 138.68,307.82 139.27,306.98 139.86,306.14 140.45,305.29 141.04,304.45 141.63,303.61 142.22,302.77 142.81,301.93 143.40,301.09 143.99,300.25 144.58,299.41 145.17,298.57 145.76,297.74 146.35,296.91 146.94,296.08 147.53,295.25 148.12,294.42 148.71,293.60 149.30,292.79 149.89,291.97 150.48,291.16 151.07,290.35 151.66,289.55 152.25,288.75 152.85,287.95 153.44,287.16 154.03,286.37 154.62,285.59 155.21,284.81 155.80,284.04 156.39,283.27 156.98,282.51 157.57,281.75 158.16,280.99 158.75,280.25 159.34,279.50 159.93,278.76 160.52,278.03 161.11,277.30 161.70,276.57 162.29,275.86 162.88,275.14 163.47,274.43 164.06,273.73 164.65,273.03 165.24,272.34 165.83,271.65 166.42,270.97 167.01,270.29 167.60,269.62 168.19,268.95 168.78,268.29 169.37,267.64 169.96,266.98 170.55,266.34 171.14,265.70 171.73,265.06 172.32,264.43 172.91,263.80 173.50,263.18 174.09,262.57 174.68,261.96 175.27,261.35 175.86,260.75 176.45,260.15 177.04,259.56 177.63,258.97 178.22,258.39 178.82,257.81 179.41,257.24 180.00,256.67 180.59,256.11 181.18,255.55 181.77,255.00 182.36,254.45 182.95,253.90 183.54,253.36 184.13,252.82 184.72,252.29 185.31,251.76 185.90,251.24 186.49,250.72 187.08,250.20 187.67,249.69 188.26,249.18 188.85,248.68 189.44,248.18 190.03,247.68 190.62,247.19 191.21,246.70 191.80,246.22 192.39,245.74 192.98,245.26 193.57,244.79 194.16,244.32 194.75,243.85 195.34,243.39 195.93,242.93 196.52,242.47 197.11,242.02 197.70,241.57 198.29,241.12 198.88,240.68 199.47,240.24 200.06,239.81 200.65,239.37 201.24,238.94 201.83,238.52 202.42,238.09 203.01,237.67 203.60,237.25 204.19,236.84 204.78,236.43 205.38,236.02 205.97,235.61 206.56,235.21 207.15,234.81 207.74,234.41 208.33,234.01 208.92,233.62 209.51,233.23 210.10,232.84 210.69,232.46 211.28,232.07 211.87,231.69 212.46,231.32 213.05,230.94 213.64,230.57 214.23,230.20 214.82,229.83 215.41,229.46 216.00,229.10 216.59,228.74 217.18,228.38 217.77,228.02 218.36,227.66 218.95,227.31 219.54,226.96 220.13,226.61 220.72,226.26 221.31,225.92 221.90,225.57 222.49,225.23 223.08,224.89 223.67,224.55 224.26,224.22 224.85,223.88 225.44,223.55 226.03,223.22 226.62,222.89 227.21,222.56 227.80,222.24 228.39,221.91 228.98,221.59 229.57,221.27 230.16,220.95 230.75,220.63 231.35,220.32 231.94,220.00 232.53,219.69 233.12,219.38 233.71,219.07 234.30,218.76 234.89,218.45 235.48,218.15 236.07,217.84 236.66,217.54 237.25,217.24 237.84,216.93 238.43,216.64 239.02,216.34 239.61,216.04 240.20,215.74 240.79,215.45 241.38,215.16 241.97,214.86 242.56,214.57 243.15,214.28 243.74,213.99 244.33,213.70 244.92,213.42 245.51,213.13 246.10,212.84 246.69,212.56 247.28,212.28 247.87,212.00 248.46,211.71 249.05,211.43 249.64,211.15 250.23,210.88 250.82,210.60 251.41,210.32 252.00,210.04 252.59,209.77 253.18,209.49 253.77,209.22 254.36,208.95 254.95,208.68 255.54,208.40 256.13,208.13 256.72,207.86 257.32,207.59 257.91,207.32 258.50,207.06 259.09,206.79 259.68,206.52 260.27,206.26 260.86,205.99 261.45,205.72 262.04,205.46 262.63,205.20 263.22,204.93 263.81,204.67 264.40,204.41 264.99,204.14 265.58,203.88 266.17,203.62 266.76,203.36 267.35,203.10 267.94,202.84 268.53,202.58 269.12,202.32 269.71,202.06 270.30,201.80" fill="none" stroke="#62b63a" stroke-width="1.3" stroke-linejoin="round"/>
<polyline points="34.80,220.76 35.39,221.23 35.98,221.71 36.57,222.21 37.16,222.70 37.75,223.21 38.34,223.73 38.93,224.25 39.52,224.78 40.11,225.33 40.70,225.88 41.29,226.44 41.88,227.00 42.47,227.58 43.06,228.17 43.65,228.77 44.24,229.37 44.83,229.99 45.42,230.61 46.01,231.25 46.60,231.89 47.19,232.55 47.78,233.21 48.38,233.89 48.97,234.58 49.56,235.27 50.15,235.98 50.74,236.70 51.33,237.42 51.92,238.16 52.51,238.91 53.10,239.67 53.69,240.44 54.28,241.23 54.87,242.02 55.46,242.82 56.05,243.64 56.64,244.47 57.23,245.30 57.82,246.15 58.41,247.01 59.00,247.88 59.59,248.76 60.18,249.66 60.77,250.56 61.36,251.48 61.95,252.40 62.54,253.34 63.13,254.29 63.72,255.25 64.31,256.22 64.90,257.20 65.49,258.19 66.08,259.19 66.67,260.20 67.26,261.22 67.85,262.25 68.44,263.29 69.03,264.35 69.62,265.41 70.21,266.47 70.80,267.55 71.39,268.64 71.98,269.73 72.57,270.84 73.16,271.95 73.75,273.06 74.35,274.19 74.94,275.32 75.53,276.46 76.12,277.60 76.71,278.75 77.30,279.91 77.89,281.06 78.48,282.23 79.07,283.39 79.66,284.56 80.25,285.74 80.84,286.91 81.43,288.09 82.02,289.26 82.61,290.44 83.20,291.61 83.79,292.79 84.38,293.96 84.97,295.13 85.56,296.30 86.15,297.47 86.74,298.63 87.33,299.78 87.92,300.93 88.51,302.08 89.10,303.21 89.69,304.34 90.28,305.46 90.87,306.57 91.46,307.66 92.05,308.75 92.64,309.83 93.23,310.89 93.82,311.94 94.41,312.98 95.00,314.00 95.59,315.00 96.18,315.99 96.77,316.96 97.36,317.92 97.95,318.85 98.54,319.77 99.13,320.66 99.72,321.54 100.32,322.39 100.91,323.22 101.50,324.03 102.09,324.82 102.68,325.58 103.27,326.32 103.86,327.03 104.45,327.72 105.04,328.38 105.63,329.02 106.22,329.63 106.81,330.21 107.40,330.77 107.99,331.29 108.58,331.79 109.17,332.27 109.76,332.71 110.35,333.13 110.94,333.51 111.53,333.87 112.12,334.20 112.71,334.50 113.30,334.77 113.89,335.02 114.48,335.23 115.07,335.42 115.66,335.57 116.25,335.70 116.84,335.80 117.43,335.88 118.02,335.92 118.61,335.94 119.20,335.93 119.79,335.89 120.38,335.83 120.97,335.74 121.56,335.63 122.15,335.49 122.74,335.32 123.33,335.13 123.92,334.92 124.51,334.68 125.10,334.42 125.69,334.14 126.28,333.83 126.88,333.51 127.47,333.16 128.06,332.79 128.65,332.40 129.24,332.00 129.83,331.57 130.42,331.12 131.01,330.66 131.60,330.18 132.19,329.68 132.78,329.17 133.37,328.64 133.96,328.10 134.55,327.54 135.14,326.97 135.73,326.39 136.32,325.79 136.91,325.18 137.50,324.56 138.09,323.93 138.68,323.28 139.27,322.63 139.86,321.97 140.45,321.29 141.04,320.61 141.63,319.92 142.22,319.23 142.81,318.52 143.40,317.81 143.99,317.10 144.58,316.37 145.17,315.64 145.76,314.91 146.35,314.17 146.94,313.43 147.53,312.68 148.12,311.93 148.71,311.17 149.30,310.42 149.89,309.66 150.48,308.90 151.07,308.13 151.66,307.37 152.25,306.60 152.85,305.83 153.44,305.06 154.03,304.29 154.62,303.52 155.21,302.75 155.80,301.98 156.39,301.21 156.98,300.44 157.57,299.67 158.16,298.91 158.75,298.14 159.34,297.38 159.93,296.61 160.52,295.85 161.11,295.09 161.70,294.33 162.29,293.58 162.88,292.82 163.47,292.07 164.06,291.32 164.65,290.58 165.24,289.83 165.83,289.09 166.42,288.36 167.01,287.62 167.60,286.89 168.19,286.16 168.78,285.44 169.37,284.71 169.96,284.00 170.55,283.28 171.14,282.57 171.73,281.86 172.32,281.16 172.91,280.46 173.50,279.76 174.09,279.07 174.68,278.38 175.27,277.69 175.86,277.01 176.45,276.33 177.04,275.66 177.63,274.99 178.22,274.32 178.82,273.66 179.41,273.00 180.00,272.35 180.59,271.70 181.18,271.05 181.77,270.41 182.36,269.77 182.95,269.13 183.54,268.50 184.13,267.88 184.72,267.25 185.31,266.63 185.90,266.02 186.49,265.41 187.08,264.80 187.67,264.20 188.26,263.60 188.85,263.00 189.44,262.41 190.03,261.82 190.62,261.24 191.21,260.66 191.80,260.08 192.39,259.51 192.98,258.94 193.57,258.38 194.16,257.81 194.75,257.26 195.34,256.70 195.93,256.15 196.52,255.60 197.11,255.06 197.70,254.52 198.29,253.98 198.88,253.45 199.47,252.92 200.06,252.39 200.65,251.87 201.24,251.35 201.83,250.83 202.42,250.32 203.01,249.81 203.60,249.30 204.19,248.80 204.78,248.30 205.38,247.80 205.97,247.31 206.56,246.81 207.15,246.33 207.74,245.84 208.33,245.36 208.92,244.88 209.51,244.40 210.10,243.93 210.69,243.46 211.28,242.99 211.87,242.52 212.46,242.06 213.05,241.60 213.64,241.14 214.23,240.69 214.82,240.24 215.41,239.79 216.00,239.34 216.59,238.90 217.18,238.45 217.77,238.01 218.36,237.58 218.95,237.14 219.54,236.71 220.13,236.28 220.72,235.85 221.31,235.43 221.90,235.01 222.49,234.58 223.08,234.17 223.67,233.75 224.26,233.33 224.85,232.92 225.44,232.51 226.03,232.10 226.62,231.70 227.21,231.29 227.80,230.89 228.39,230.49 228.98,230.09 229.57,229.70 230.16,229.30 230.75,228.91 231.35,228.52 231.94,228.13 232.53,227.74 233.12,227.36 233.71,226.97 234.30,226.59 234.89,226.21 235.48,225.83 236.07,225.45 236.66,225.08 237.25,224.70 237.84,224.33 238.43,223.96 239.02,223.59 239.61,223.22 240.20,222.86 240.79,222.49 241.38,222.13 241.97,221.76 242.56,221.40 243.15,221.04 243.74,220.68 244.33,220.33 244.92,219.97 245.51,219.62 246.10,219.26 246.69,218.91 247.28,218.56 247.87,218.21 248.46,217.86 249.05,217.51 249.64,217.16 250.23,216.82 250.82,216.47 251.41,216.13 252.00,215.79 252.59,215.44 253.18,215.10 253.77,214.76 254.36,214.42 254.95,214.09 255.54,213.75 256.13,213.41 256.72,213.08 257.32,212.74 257.91,212.41 258.50,212.07 259.09,211.74 259.68,211.41 260.27,211.08 260.86,210.75 261.45,210.42 262.04,210.09 262.63,209.76 263.22,209.43 263.81,209.10 264.40,208.78 264.99,208.45 265.58,208.12 266.17,207.80 266.76,207.47 267.35,207.15 267.94,206.83 268.53,206.50 269.12,206.18 269.71,205.86 270.30,205.54" fill="none" stroke="#161616" stroke-width="1.3" stroke-linejoin="round"/>
<polyline points="34.80,220.20 35.39,220.62 35.98,221.05 36.57,221.49 37.16,221.94 37.75,222.39 38.34,222.85 38.93,223.32 39.52,223.79 40.11,224.27 40.70,224.76 41.29,225.25 41.88,225.75 42.47,226.26 43.06,226.78 43.65,227.30 44.24,227.83 44.83,228.37 45.42,228.92 46.01,229.47 46.60,230.04 47.19,230.61 47.78,231.19 48.38,231.77 48.97,232.37 49.56,232.97 50.15,233.59 50.74,234.21 51.33,234.83 51.92,235.47 52.51,236.12 53.10,236.77 53.69,237.43 54.28,238.11 54.87,238.79 55.46,239.47 56.05,240.17 56.64,240.88 57.23,241.59 57.82,242.32 58.41,243.05 59.00,243.79 59.59,244.55 60.18,245.31 60.77,246.07 61.36,246.85 61.95,247.64 62.54,248.44 63.13,249.24 63.72,250.05 64.31,250.88 64.90,251.71 65.49,252.55 66.08,253.40 66.67,254.25 67.26,255.12 67.85,255.99 68.44,256.87 69.03,257.77 69.62,258.66 70.21,259.57 70.80,260.49 71.39,261.41 71.98,262.34 72.57,263.28 73.16,264.23 73.75,265.18 74.35,266.14 74.94,267.11 75.53,268.08 76.12,269.06 76.71,270.05 77.30,271.04 77.89,272.04 78.48,273.04 79.07,274.05 79.66,275.06 80.25,276.08 80.84,277.10 81.43,278.13 82.02,279.16 82.61,280.20 83.20,281.23 83.79,282.27 84.38,283.32 84.97,284.36 85.56,285.41 86.15,286.45 86.74,287.50 87.33,288.55 87.92,289.60 88.51,290.65 89.10,291.69 89.69,292.74 90.28,293.78 90.87,294.82 91.46,295.86 92.05,296.90 92.64,297.93 93.23,298.95 93.82,299.98 94.41,300.99 95.00,302.00 95.59,303.01 96.18,304.00 96.77,304.99 97.36,305.97 97.95,306.94 98.54,307.91 99.13,308.86 99.72,309.80 100.32,310.73 100.91,311.66 101.50,312.56 102.09,313.46 102.68,314.34 103.27,315.21 103.86,316.07 104.45,316.91 105.04,317.74 105.63,318.55 106.22,319.34 106.81,320.12 107.40,320.88 107.99,321.62 108.58,322.35 109.17,323.06 109.76,323.75 110.35,324.42 110.94,325.07 111.53,325.70 112.12,326.31 112.71,326.90 113.30,327.47 113.89,328.02 114.48,328.55 115.07,329.05 115.66,329.54 116.25,330.00 116.84,330.44 117.43,330.86 118.02,331.25 118.61,331.62 119.20,331.97 119.79,332.30 120.38,332.61 120.97,332.89 121.56,333.15 122.15,333.38 122.74,333.60 123.33,333.79 123.92,333.96 124.51,334.10 125.10,334.22 125.69,334.32 126.28,334.40 126.88,334.46 127.47,334.49 128.06,334.50 128.65,334.49 129.24,334.46 129.83,334.41 130.42,334.34 131.01,334.24 131.60,334.13 132.19,333.99 132.78,333.84 133.37,333.67 133.96,333.47 134.55,333.26 135.14,333.03 135.73,332.78 136.32,332.52 136.91,332.23 137.50,331.93 138.09,331.62 138.68,331.28 139.27,330.93 139.86,330.57 140.45,330.19 141.04,329.79 141.63,329.38 142.22,328.96 142.81,328.52 143.40,328.07 143.99,327.61 144.58,327.13 145.17,326.64 145.76,326.15 146.35,325.63 146.94,325.11 147.53,324.58 148.12,324.04 148.71,323.48 149.30,322.92 149.89,322.35 150.48,321.77 151.07,321.18 151.66,320.59 152.25,319.98 152.85,319.37 153.44,318.76 154.03,318.13 154.62,317.50 155.21,316.86 155.80,316.22 156.39,315.57 156.98,314.92 157.57,314.26 158.16,313.60 158.75,312.93 159.34,312.26 159.93,311.59 160.52,310.91 161.11,310.23 161.70,309.54 162.29,308.86 162.88,308.17 163.47,307.48 164.06,306.78 164.65,306.09 165.24,305.39 165.83,304.69 166.42,303.99 167.01,303.29 167.60,302.59 168.19,301.89 168.78,301.19 169.37,300.48 169.96,299.78 170.55,299.08 171.14,298.38 171.73,297.67 172.32,296.97 172.91,296.27 173.50,295.57 174.09,294.87 174.68,294.17 175.27,293.47 175.86,292.78 176.45,292.08 177.04,291.39 177.63,290.69 178.22,290.00 178.82,289.31 179.41,288.62 180.00,287.94 180.59,287.25 181.18,286.57 181.77,285.89 182.36,285.21 182.95,284.54 183.54,283.86 184.13,283.19 184.72,282.52 185.31,281.86 185.90,281.19 186.49,280.53 187.08,279.87 187.67,279.21 188.26,278.56 188.85,277.91 189.44,277.26 190.03,276.61 190.62,275.97 191.21,275.33 191.80,274.69 192.39,274.05 192.98,273.42 193.57,272.79 194.16,272.16 194.75,271.54 195.34,270.92 195.93,270.30 196.52,269.68 197.11,269.07 197.70,268.46 198.29,267.85 198.88,267.25 199.47,266.65 200.06,266.05 200.65,265.45 201.24,264.86 201.83,264.27 202.42,263.68 203.01,263.09 203.60,262.51 204.19,261.93 204.78,261.36 205.38,260.78 205.97,260.21 206.56,259.64 207.15,259.08 207.74,258.52 208.33,257.96 208.92,257.40 209.51,256.84 210.10,256.29 210.69,255.74 211.28,255.20 211.87,254.65 212.46,254.11 213.05,253.57 213.64,253.04 214.23,252.50 214.82,251.97 215.41,251.44 216.00,250.92 216.59,250.39 217.18,249.87 217.77,249.35 218.36,248.84 218.95,248.32 219.54,247.81 220.13,247.30 220.72,246.80 221.31,246.29 221.90,245.79 222.49,245.29 223.08,244.79 223.67,244.30 224.26,243.80 224.85,243.31 225.44,242.82 226.03,242.34 226.62,241.85 227.21,241.37 227.80,240.89 228.39,240.41 228.98,239.93 229.57,239.46 230.16,238.98 230.75,238.51 231.35,238.04 231.94,237.58 232.53,237.11 233.12,236.65 233.71,236.19 234.30,235.73 234.89,235.27 235.48,234.81 236.07,234.36 236.66,233.90 237.25,233.45 237.84,233.00 238.43,232.55 239.02,232.11 239.61,231.66 240.20,231.22 240.79,230.78 241.38,230.34 241.97,229.90 242.56,229.46 243.15,229.02 243.74,228.59 244.33,228.15 244.92,227.72 245.51,227.29 246.10,226.86 246.69,226.43 247.28,226.01 247.87,225.58 248.46,225.15 249.05,224.73 249.64,224.31 250.23,223.89 250.82,223.47 251.41,223.05 252.00,222.63 252.59,222.21 253.18,221.80 253.77,221.38 254.36,220.97 254.95,220.55 255.54,220.14 256.13,219.73 256.72,219.32 257.32,218.91 257.91,218.50 258.50,218.09 259.09,217.69 259.68,217.28 260.27,216.87 260.86,216.47 261.45,216.06 262.04,215.66 262.63,215.26 263.22,214.85 263.81,214.45 264.40,214.05 264.99,213.65 265.58,213.25 266.17,212.85 266.76,212.45 267.35,212.05 267.94,211.65 268.53,211.26 269.12,210.86 269.71,210.46 270.30,210.06" fill="none" stroke="#6ccad2" stroke-width="1.3" stroke-linejoin="round"/>
<polyline points="34.80,219.52 35.39,219.90 35.98,220.29 36.57,220.68 37.16,221.08 37.75,221.48 38.34,221.89 38.93,222.31 39.52,222.73 40.11,223.16 40.70,223.59 41.29,224.03 41.88,224.47 42.47,224.92 43.06,225.38 43.65,225.84 44.24,226.31 44.83,226.79 45.42,227.27 46.01,227.75 46.60,228.25 47.19,228.75 47.78,229.25 48.38,229.77 48.97,230.29 49.56,230.81 50.15,231.34 50.74,231.88 51.33,232.43 51.92,232.98 52.51,233.54 53.10,234.11 53.69,234.68 54.28,235.26 54.87,235.85 55.46,236.44 56.05,237.04 56.64,237.65 57.23,238.26 57.82,238.89 58.41,239.51 59.00,240.15 59.59,240.79 60.18,241.44 60.77,242.10 61.36,242.77 61.95,243.44 62.54,244.12 63.13,244.80 63.72,245.50 64.31,246.20 64.90,246.90 65.49,247.62 66.08,248.34 66.67,249.07 67.26,249.80 67.85,250.55 68.44,251.30 69.03,252.05 69.62,252.82 70.21,253.58 70.80,254.36 71.39,255.14 71.98,255.93 72.57,256.73 73.16,257.53 73.75,258.34 74.35,259.16 74.94,259.98 75.53,260.81 76.12,261.64 76.71,262.48 77.30,263.33 77.89,264.18 78.48,265.03 79.07,265.89 79.66,266.76 80.25,267.63 80.84,268.51 81.43,269.39 82.02,270.27 82.61,271.16 83.20,272.06 83.79,272.95 84.38,273.85 84.97,274.76 85.56,275.67 86.15,276.58 86.74,277.49 87.33,278.41 87.92,279.33 88.51,280.25 89.10,281.17 89.69,282.09 90.28,283.02 90.87,283.94 91.46,284.87 92.05,285.80 92.64,286.72 93.23,287.65 93.82,288.57 94.41,289.50 95.00,290.42 95.59,291.34 96.18,292.26 96.77,293.18 97.36,294.09 97.95,295.01 98.54,295.91 99.13,296.82 99.72,297.72 100.32,298.61 100.91,299.51 101.50,300.39 102.09,301.27 102.68,302.15 103.27,303.01 103.86,303.87 104.45,304.73 105.04,305.57 105.63,306.41 106.22,307.24 106.81,308.06 107.40,308.87 107.99,309.68 108.58,310.47 109.17,311.25 109.76,312.02 110.35,312.79 110.94,313.53 111.53,314.27 112.12,315.00 112.71,315.71 113.30,316.41 113.89,317.10 114.48,317.78 115.07,318.44 115.66,319.08 116.25,319.72 116.84,320.34 117.43,320.94 118.02,321.53 118.61,322.10 119.20,322.66 119.79,323.20 120.38,323.72 120.97,324.23 121.56,324.73 122.15,325.20 122.74,325.66 123.33,326.10 123.92,326.53 124.51,326.94 125.10,327.33 125.69,327.70 126.28,328.05 126.88,328.39 127.47,328.71 128.06,329.01 128.65,329.30 129.24,329.56 129.83,329.81 130.42,330.04 131.01,330.25 131.60,330.44 132.19,330.62 132.78,330.77 133.37,330.91 133.96,331.04 134.55,331.14 135.14,331.22 135.73,331.29 136.32,331.34 136.91,331.38 137.50,331.39 138.09,331.39 138.68,331.37 139.27,331.34 139.86,331.28 140.45,331.22 141.04,331.13 141.63,331.03 142.22,330.91 142.81,330.78 143.40,330.63 143.99,330.47 144.58,330.29 145.17,330.09 145.76,329.89 146.35,329.66 146.94,329.42 147.53,329.17 148.12,328.91 148.71,328.63 149.30,328.34 149.89,328.03 150.48,327.72 151.07,327.39 151.66,327.04 152.25,326.69 152.85,326.32 153.44,325.95 154.03,325.56 154.62,325.16 155.21,324.75 155.80,324.33 156.39,323.90 156.98,323.46 157.57,323.01 158.16,322.55 158.75,322.09 159.34,321.61 159.93,321.13 160.52,320.63 161.11,320.13 161.70,319.62 162.29,319.11 162.88,318.59 163.47,318.06 164.06,317.52 164.65,316.98 165.24,316.43 165.83,315.87 166.42,315.31 167.01,314.75 167.60,314.17 168.19,313.60 168.78,313.02 169.37,312.43 169.96,311.84 170.55,311.24 171.14,310.65 171.73,310.04 172.32,309.44 172.91,308.83 173.50,308.21 174.09,307.60 174.68,306.98 175.27,306.36 175.86,305.73 176.45,305.10 177.04,304.48 177.63,303.84 178.22,303.21 178.82,302.58 179.41,301.94 180.00,301.30 180.59,300.66 181.18,300.02 181.77,299.38 182.36,298.74 182.95,298.09 183.54,297.45 184.13,296.80 184.72,296.16 185.31,295.51 185.90,294.87 186.49,294.22 187.08,293.57 187.67,292.93 188.26,292.28 188.85,291.63 189.44,290.99 190.03,290.34 190.62,289.70 191.21,289.05 191.80,288.41 192.39,287.76 192.98,287.12 193.57,286.48 194.16,285.84 194.75,285.20 195.34,284.56 195.93,283.92 196.52,283.28 197.11,282.64 197.70,282.01 198.29,281.37 198.88,280.74 199.47,280.11 200.06,279.48 200.65,278.85 201.24,278.22 201.83,277.60 202.42,276.97 203.01,276.35 203.60,275.73 204.19,275.11 204.78,274.49 205.38,273.88 205.97,273.26 206.56,272.65 207.15,272.04 207.74,271.43 208.33,270.82 208.92,270.21 209.51,269.61 210.10,269.00 210.69,268.40 211.28,267.80 211.87,267.20 212.46,266.61 213.05,266.01 213.64,265.42 214.23,264.83 214.82,264.24 215.41,263.66 216.00,263.07 216.59,262.49 217.18,261.91 217.77,261.33 218.36,260.75 218.95,260.17 219.54,259.60 220.13,259.03 220.72,258.46 221.31,257.89 221.90,257.32 222.49,256.75 223.08,256.19 223.67,255.63 224.26,255.07 224.85,254.51 225.44,253.95 226.03,253.40 226.62,252.84 227.21,252.29 227.80,251.74 228.39,251.19 228.98,250.65 229.57,250.10 230.16,249.56 230.75,249.02 231.35,248.48 231.94,247.94 232.53,247.40 233.12,246.87 233.71,246.33 234.30,245.80 234.89,245.27 235.48,244.74 236.07,244.21 236.66,243.69 237.25,243.16 237.84,242.64 238.43,242.11 239.02,241.59 239.61,241.07 240.20,240.56 240.79,240.04 241.38,239.52 241.97,239.01 242.56,238.49 243.15,237.98 243.74,237.47 244.33,236.96 244.92,236.45 245.51,235.95 246.10,235.44 246.69,234.94 247.28,234.43 247.87,233.93 248.46,233.43 249.05,232.93 249.64,232.43 250.23,231.93 250.82,231.43 251.41,230.93 252.00,230.44 252.59,229.94 253.18,229.45 253.77,228.95 254.36,228.46 254.95,227.97 255.54,227.48 256.13,226.99 256.72,226.50 257.32,226.01 257.91,225.52 258.50,225.03 259.09,224.54 259.68,224.06 260.27,223.57 260.86,223.08 261.45,222.60 262.04,222.11 262.63,221.63 263.22,221.15 263.81,220.66 264.40,220.18 264.99,219.70 265.58,219.22 266.17,218.73 266.76,218.25 267.35,217.77 267.94,217.29 268.53,216.81 269.12,216.33 269.71,215.85 270.30,215.37" fill="none" stroke="#ee3a2e" stroke-width="1.3" stroke-linejoin="round"/>
</g>
<line x1="34.80" y1="336.00" x2="34.80" y2="333.00" stroke="#1c1c1c" stroke-width="1.3"/>
<line x1="34.80" y1="187.20" x2="34.80" y2="190.20" stroke="#1c1c1c" stroke-width="1.3"/>
<line x1="68.44" y1="336.00" x2="68.44" y2="333.00" stroke="#1c1c1c" stroke-width="1.3"/>
<line x1="68.44" y1="187.20" x2="68.44" y2="190.20" stroke="#1c1c1c" stroke-width="1.3"/>
<line x1="102.09" y1="336.00" x2="102.09" y2="333.00" stroke="#1c1c1c" stroke-width="1.3"/>
<line x1="102.09" y1="187.20" x2="102.09" y2="190.20" stroke="#1c1c1c" stroke-width="1.3"/>
<line x1="135.73" y1="336.00" x2="135.73" y2="333.00" stroke="#1c1c1c" stroke-width="1.3"/>
<line x1="135.73" y1="187.20" x2="135.73" y2="190.20" stroke="#1c1c1c" stroke-width="1.3"/>
<line x1="169.37" y1="336.00" x2="169.37" y2="333.00" stroke="#1c1c1c" stroke-width="1.3"/>
<line x1="169.37" y1="187.20" x2="169.37" y2="190.20" stroke="#1c1c1c" stroke-width="1.3"/>
<line x1="203.01" y1="336.00" x2="203.01" y2="333.00" stroke="#1c1c1c" stroke-width="1.3"/>
<line x1="203.01" y1="187.20" x2="203.01" y2="190.20" stroke="#1c1c1c" stroke-width="1.3"/>
<line x1="236.66" y1="336.00" x2="236.66" y2="333.00" stroke="#1c1c1c" stroke-width="1.3"/>
<line x1="236.66" y1="187.20" x2="236.66" y2="190.20" stroke="#1c1c1c" stroke-width="1.3"/>
<line x1="270.30" y1="336.00" x2="270.30" y2="333.00" stroke="#1c1c1c" stroke-width="1.3"/>
<line x1="270.30" y1="187.20" x2="270.30" y2="190.20" stroke="#1c1c1c" stroke-width="1.3"/>
<line x1="34.80" y1="336.00" x2="37.80" y2="336.00" stroke="#1c1c1c" stroke-width="1.3"/>
<line x1="270.30" y1="336.00" x2="267.30" y2="336.00" stroke="#1c1c1c" stroke-width="1.3"/>
<line x1="34.80" y1="321.12" x2="37.80" y2="321.12" stroke="#1c1c1c" stroke-width="1.3"/>
<line x1="270.30" y1="321.12" x2="267.30" y2="321.12" stroke="#1c1c1c" stroke-width="1.3"/>
<line x1="34.80" y1="306.24" x2="37.80" y2="306.24" stroke="#1c1c1c" stroke-width="1.3"/>
<line x1="270.30" y1="306.24" x2="267.30" y2="306.24" stroke="#1c1c1c" stroke-width="1.3"/>
<line x1="34.80" y1="291.36" x2="37.80" y2="291.36" stroke="#1c1c1c" stroke-width="1.3"/>
<line x1="270.30" y1="291.36" x2="267.30" y2="291.36" stroke="#1c1c1c" stroke-width="1.3"/>
<line x1="34.80" y1="276.48" x2="37.80" y2="276.48" stroke="#1c1c1c" stroke-width="1.3"/>
<line x1="270.30" y1="276.48" x2="267.30" y2="276.48" stroke="#1c1c1c" stroke-width="1.3"/>
<line x1="34.80" y1="261.60" x2="37.80" y2="261.60" stroke="#1c1c1c" stroke-width="1.3"/>
<line x1="270.30" y1="261.60" x2="267.30" y2="261.60" stroke="#1c1c1c" stroke-width="1.3"/>
<line x1="34.80" y1="246.72" x2="37.80" y2="246.72" stroke="#1c1c1c" stroke-width="1.3"/>
<line x1="270.30" y1="246.72" x2="267.30" y2="246.72" stroke="#1c1c1c" stroke-width="1.3"/>
<line x1="34.80" y1="231.84" x2="37.80" y2="231.84" stroke="#1c1c1c" stroke-width="1.3"/>
<line x1="270.30" y1="231.84" x2="267.30" y2="231.84" stroke="#1c1c1c" stroke-width="1.3"/>
<line x1="34.80" y1="216.96" x2="37.80" y2="216.96" stroke="#1c1c1c" stroke-width="1.3"/>
<line x1="270.30" y1="216.96" x2="267.30" y2="216.96" stroke="#1c1c1c" stroke-width="1.3"/>
<line x1="34.80" y1="202.08" x2="37.80" y2="202.08" stroke="#1c1c1c" stroke-width="1.3"/>
<line x1="270.30" y1="202.08" x2="267.30" y2="202.08" stroke="#1c1c1c" stroke-width="1.3"/>
<line x1="34.80" y1="187.20" x2="37.80" y2="187.20" stroke="#1c1c1c" stroke-width="1.3"/>
<line x1="270.30" y1="187.20" x2="267.30" y2="187.20" stroke="#1c1c1c" stroke-width="1.3"/>
<rect x="34.80" y="187.20" width="235.50" height="148.80" fill="none" stroke="#1c1c1c" stroke-width="1.3"/>
<text x="34.10" y="347.10" font-size="8.7" text-anchor="middle">74</text>
<text x="67.74" y="347.10" font-size="8.7" text-anchor="middle">76</text>
<text x="101.39" y="347.10" font-size="8.7" text-anchor="middle">78</text>
<text x="135.03" y="347.10" font-size="8.7" text-anchor="middle">80</text>
<text x="168.67" y="347.10" font-size="8.7" text-anchor="middle">82</text>
<text x="202.31" y="347.10" font-size="8.7" text-anchor="middle">84</text>
<text x="235.96" y="347.10" font-size="8.7" text-anchor="middle">86</text>
<text x="269.60" y="347.10" font-size="8.7" text-anchor="middle">88</text>
<text x="33.00" y="338.95" font-size="9.0" text-anchor="end">0</text>
<text x="32.78" y="324.07" font-size="9.0" text-anchor="end">0.1</text>
<text x="32.56" y="309.19" font-size="9.0" text-anchor="end">0.2</text>
<text x="32.34" y="294.31" font-size="9.0" text-anchor="end">0.3</text>
<text x="32.12" y="279.43" font-size="9.0" text-anchor="end">0.4</text>
<text x="31.90" y="264.55" font-size="9.0" text-anchor="end">0.5</text>
<text x="31.68" y="249.67" font-size="9.0" text-anchor="end">0.6</text>
<text x="31.46" y="234.79" font-size="9.0" text-anchor="end">0.7</text>
<text x="31.24" y="219.91" font-size="9.0" text-anchor="end">0.8</text>
<text x="31.02" y="205.03" font-size="9.0" text-anchor="end">0.9</text>
<text x="30.80" y="190.15" font-size="9.0" text-anchor="end">1.0</text>
<text x="37.10" y="196.50" font-size="10.0" text-anchor="start">(c)</text>
<text x="146.90" y="202.80" font-size="12" text-anchor="middle">E.coli</text>
<text x="152.55" y="356.60" font-size="9.5" text-anchor="middle">Incident Angle&#160;&#160;(&#176;)</text>
<text x="0" y="0" font-size="9.6" text-anchor="middle" transform="translate(15.00,262.80) rotate(-90)">Reflectivity (a.u)</text>
<text x="240.30" y="272.60" font-size="9" text-anchor="middle">Graphene</text>
<line x1="220.20" y1="279.00" x2="233.00" y2="279.00" stroke="#3d4497" stroke-width="1.1"/>
<text x="237.00" y="281.30" font-size="9"><tspan font-style="italic">L</tspan><tspan stroke-width="0">=</tspan><tspan>1</tspan></text>
<line x1="220.20" y1="287.70" x2="233.00" y2="287.70" stroke="#62b63a" stroke-width="1.1"/>
<text x="237.00" y="290.00" font-size="9"><tspan font-style="italic">L</tspan><tspan stroke-width="0">=</tspan><tspan>2</tspan></text>
<line x1="220.20" y1="296.50" x2="233.00" y2="296.50" stroke="#161616" stroke-width="1.1"/>
<text x="237.00" y="298.80" font-size="9"><tspan font-style="italic">L</tspan><tspan stroke-width="0">=</tspan><tspan>3</tspan></text>
<line x1="220.20" y1="306.00" x2="233.00" y2="306.00" stroke="#6ccad2" stroke-width="1.1"/>
<text x="237.00" y="308.30" font-size="9"><tspan font-style="italic">L</tspan><tspan stroke-width="0">=</tspan><tspan>4</tspan></text>
<line x1="220.20" y1="315.60" x2="233.00" y2="315.60" stroke="#ee3a2e" stroke-width="1.1"/>
<text x="237.00" y="317.90" font-size="9"><tspan font-style="italic">L</tspan><tspan stroke-width="0">=</tspan><tspan>5</tspan></text>
<clipPath id="clipd"><rect x="305.2" y="186.8" width="234.25000000000006" height="149.25"/></clipPath>
<polyline points="305.20,289.71 352.05,286.80 398.90,285.08 445.75,283.66 492.60,281.57 539.45,281.13" fill="none" stroke="#161616" stroke-width="1.25"/>
<circle cx="305.20" cy="289.71" r="1.6" fill="#161616"/>
<circle cx="352.05" cy="286.80" r="1.6" fill="#161616"/>
<circle cx="398.90" cy="285.08" r="1.6" fill="#161616"/>
<circle cx="445.75" cy="283.66" r="1.6" fill="#161616"/>
<circle cx="492.60" cy="281.57" r="1.6" fill="#161616"/>
<circle cx="539.45" cy="281.13" r="1.6" fill="#161616"/>
<polyline points="305.20,276.95 352.05,265.90 398.90,263.96 445.75,259.48 492.60,256.50 539.45,253.81" fill="none" stroke="#3d4497" stroke-width="1.25"/>
<circle cx="305.20" cy="276.95" r="1.6" fill="#3d4497"/>
<circle cx="352.05" cy="265.90" r="1.6" fill="#3d4497"/>
<circle cx="398.90" cy="263.96" r="1.6" fill="#3d4497"/>
<circle cx="445.75" cy="259.48" r="1.6" fill="#3d4497"/>
<circle cx="492.60" cy="256.50" r="1.6" fill="#3d4497"/>
<circle cx="539.45" cy="253.81" r="1.6" fill="#3d4497"/>
<polyline points="305.20,238.89 352.05,233.81 398.90,228.29 445.75,220.83 492.60,216.28 539.45,213.37" fill="none" stroke="#ee3a2e" stroke-width="1.25"/>
<circle cx="305.20" cy="238.89" r="1.6" fill="#ee3a2e"/>
<circle cx="352.05" cy="233.81" r="1.6" fill="#ee3a2e"/>
<circle cx="398.90" cy="228.29" r="1.6" fill="#ee3a2e"/>
<circle cx="445.75" cy="220.83" r="1.6" fill="#ee3a2e"/>
<circle cx="492.60" cy="216.28" r="1.6" fill="#ee3a2e"/>
<circle cx="539.45" cy="213.37" r="1.6" fill="#ee3a2e"/>
<line x1="305.20" y1="336.05" x2="305.20" y2="333.05" stroke="#1c1c1c" stroke-width="1.3"/>
<line x1="305.20" y1="186.80" x2="305.20" y2="189.80" stroke="#1c1c1c" stroke-width="1.3"/>
<line x1="352.05" y1="336.05" x2="352.05" y2="333.05" stroke="#1c1c1c" stroke-width="1.3"/>
<line x1="352.05" y1="186.80" x2="352.05" y2="189.80" stroke="#1c1c1c" stroke-width="1.3"/>
<line x1="398.90" y1="336.05" x2="398.90" y2="333.05" stroke="#1c1c1c" stroke-width="1.3"/>
<line x1="398.90" y1="186.80" x2="398.90" y2="189.80" stroke="#1c1c1c" stroke-width="1.3"/>
<line x1="445.75" y1="336.05" x2="445.75" y2="333.05" stroke="#1c1c1c" stroke-width="1.3"/>
<line x1="445.75" y1="186.80" x2="445.75" y2="189.80" stroke="#1c1c1c" stroke-width="1.3"/>
<line x1="492.60" y1="336.05" x2="492.60" y2="333.05" stroke="#1c1c1c" stroke-width="1.3"/>
<line x1="492.60" y1="186.80" x2="492.60" y2="189.80" stroke="#1c1c1c" stroke-width="1.3"/>
<line x1="539.45" y1="336.05" x2="539.45" y2="333.05" stroke="#1c1c1c" stroke-width="1.3"/>
<line x1="539.45" y1="186.80" x2="539.45" y2="189.80" stroke="#1c1c1c" stroke-width="1.3"/>
<line x1="305.20" y1="336.05" x2="308.20" y2="336.05" stroke="#1c1c1c" stroke-width="1.3"/>
<line x1="539.45" y1="336.05" x2="536.45" y2="336.05" stroke="#1c1c1c" stroke-width="1.3"/>
<line x1="305.20" y1="321.12" x2="308.20" y2="321.12" stroke="#1c1c1c" stroke-width="1.3"/>
<line x1="539.45" y1="321.12" x2="536.45" y2="321.12" stroke="#1c1c1c" stroke-width="1.3"/>
<line x1="305.20" y1="306.20" x2="308.20" y2="306.20" stroke="#1c1c1c" stroke-width="1.3"/>
<line x1="539.45" y1="306.20" x2="536.45" y2="306.20" stroke="#1c1c1c" stroke-width="1.3"/>
<line x1="305.20" y1="291.28" x2="308.20" y2="291.28" stroke="#1c1c1c" stroke-width="1.3"/>
<line x1="539.45" y1="291.28" x2="536.45" y2="291.28" stroke="#1c1c1c" stroke-width="1.3"/>
<line x1="305.20" y1="276.35" x2="308.20" y2="276.35" stroke="#1c1c1c" stroke-width="1.3"/>
<line x1="539.45" y1="276.35" x2="536.45" y2="276.35" stroke="#1c1c1c" stroke-width="1.3"/>
<line x1="305.20" y1="261.43" x2="308.20" y2="261.43" stroke="#1c1c1c" stroke-width="1.3"/>
<line x1="539.45" y1="261.43" x2="536.45" y2="261.43" stroke="#1c1c1c" stroke-width="1.3"/>
<line x1="305.20" y1="246.50" x2="308.20" y2="246.50" stroke="#1c1c1c" stroke-width="1.3"/>
<line x1="539.45" y1="246.50" x2="536.45" y2="246.50" stroke="#1c1c1c" stroke-width="1.3"/>
<line x1="305.20" y1="231.58" x2="308.20" y2="231.58" stroke="#1c1c1c" stroke-width="1.3"/>
<line x1="539.45" y1="231.58" x2="536.45" y2="231.58" stroke="#1c1c1c" stroke-width="1.3"/>
<line x1="305.20" y1="216.65" x2="308.20" y2="216.65" stroke="#1c1c1c" stroke-width="1.3"/>
<line x1="539.45" y1="216.65" x2="536.45" y2="216.65" stroke="#1c1c1c" stroke-width="1.3"/>
<line x1="305.20" y1="201.72" x2="308.20" y2="201.72" stroke="#1c1c1c" stroke-width="1.3"/>
<line x1="539.45" y1="201.72" x2="536.45" y2="201.72" stroke="#1c1c1c" stroke-width="1.3"/>
<line x1="305.20" y1="186.80" x2="308.20" y2="186.80" stroke="#1c1c1c" stroke-width="1.3"/>
<line x1="539.45" y1="186.80" x2="536.45" y2="186.80" stroke="#1c1c1c" stroke-width="1.3"/>
<rect x="305.20" y="186.80" width="234.25" height="149.25" fill="none" stroke="#1c1c1c" stroke-width="1.3"/>
<text x="301.40" y="339.00" font-size="9.0" text-anchor="end">60</text>
<text x="301.40" y="324.07" font-size="9.0" text-anchor="end">80</text>
<text x="301.40" y="309.15" font-size="9.0" text-anchor="end">100</text>
<text x="301.40" y="294.23" font-size="9.0" text-anchor="end">120</text>
<text x="301.40" y="279.30" font-size="9.0" text-anchor="end">140</text>
<text x="301.40" y="264.38" font-size="9.0" text-anchor="end">160</text>
<text x="301.40" y="249.45" font-size="9.0" text-anchor="end">180</text>
<text x="301.40" y="234.53" font-size="9.0" text-anchor="end">200</text>
<text x="301.40" y="219.60" font-size="9.0" text-anchor="end">220</text>
<text x="301.40" y="204.67" font-size="9.0" text-anchor="end">240</text>
<text x="301.40" y="189.75" font-size="9.0" text-anchor="end">260</text>
<text x="306.00" y="347.05" font-size="8.7" text-anchor="middle">0</text>
<text x="349.60" y="347.05" font-size="8.7" text-anchor="middle">monolayer</text>
<text x="400.00" y="347.05" font-size="8.7" text-anchor="middle">bilayer</text>
<text x="448.00" y="347.05" font-size="8.7" text-anchor="middle">3 layers</text>
<text x="492.80" y="347.05" font-size="8.7" text-anchor="middle">4 layers</text>
<text x="534.00" y="347.05" font-size="8.7" text-anchor="middle">5 layers</text>
<text x="308.20" y="197.30" font-size="10.5" text-anchor="start">(d)</text>
<line x1="331.90" y1="196.60" x2="355.90" y2="196.60" stroke="#161616" stroke-width="1.0"/>
<circle cx="342.5" cy="196.6" r="1.8" fill="#161616"/>
<text x="356.30" y="198.60" font-size="9.0" text-anchor="start">Pure Water</text>
<line x1="399.20" y1="196.90" x2="424.80" y2="196.90" stroke="#3d4497" stroke-width="1.3"/>
<circle cx="412.3" cy="196.9" r="1.9" fill="#3d4497"/>
<text x="426.00" y="199.00" font-size="9.3" text-anchor="start">V.cholera</text>
<line x1="464.40" y1="197.40" x2="492.70" y2="197.40" stroke="#ee3a2e" stroke-width="1.2"/>
<circle cx="478.8" cy="197.4" r="1.6" fill="#ee3a2e"/>
<text x="494.90" y="199.60" font-size="9.3" text-anchor="start">E.coli</text>
<text x="426.80" y="358.45" font-size="9.3" text-anchor="middle">Layers of graphene (<tspan font-style="italic">L</tspan>)</text>
<text x="0" y="0" font-size="9.4" text-anchor="middle" transform="translate(280.8,265.0) rotate(-90)">Sensitivity (&#176;/RIU)</text>
</svg></body></html>
